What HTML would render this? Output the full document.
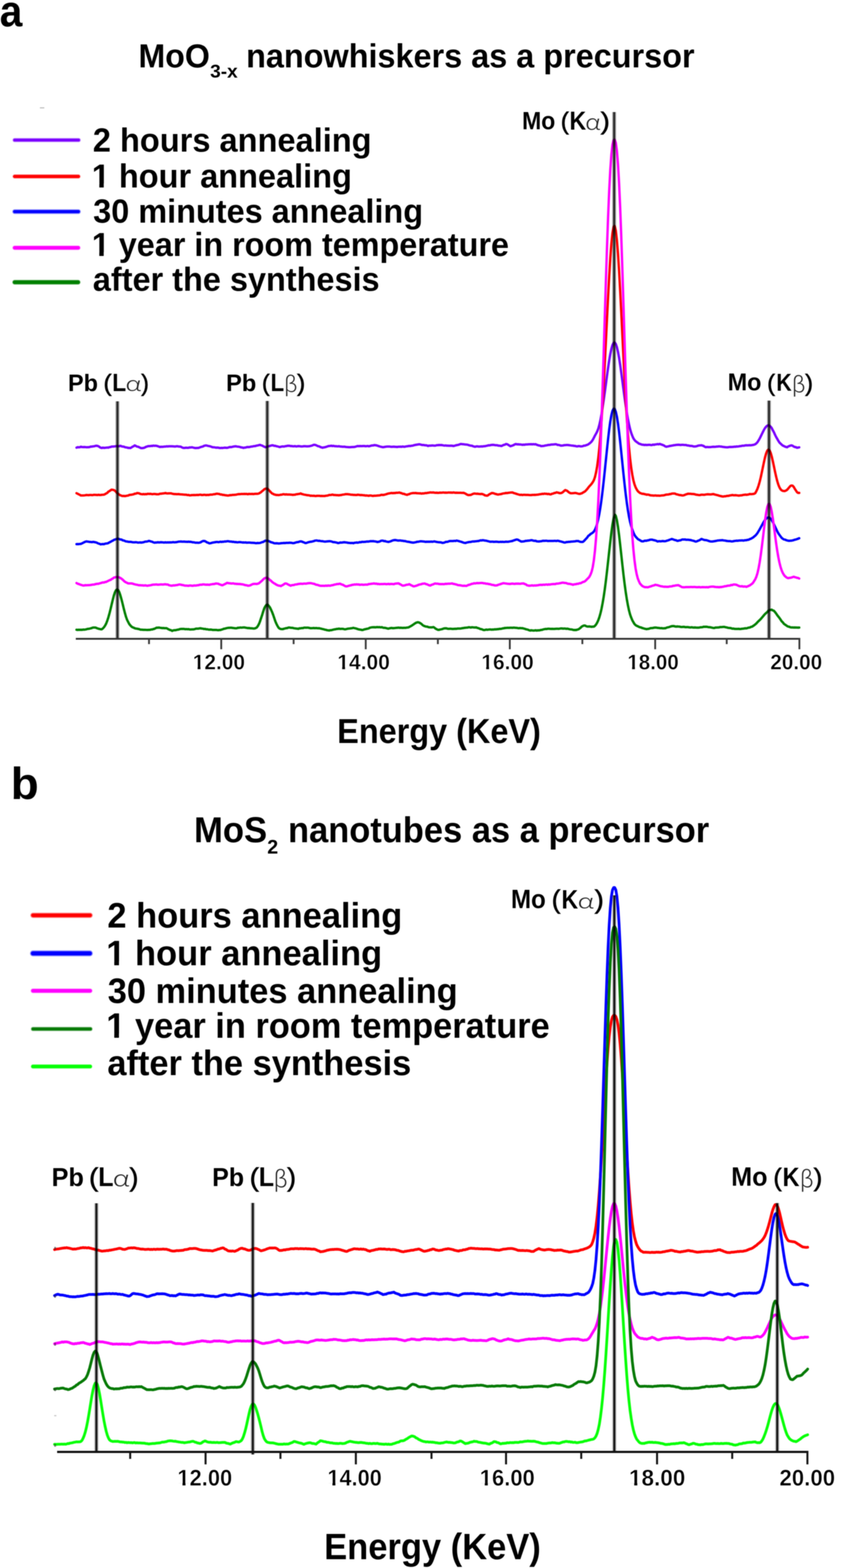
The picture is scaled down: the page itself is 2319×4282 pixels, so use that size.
<!DOCTYPE html><html><head><meta charset="utf-8"><title>EDS spectra</title><style>html,body{margin:0;padding:0;background:#fff}svg{display:block;filter:blur(0.9px)}</style></head><body>
<svg width="2319" height="4282" viewBox="0 0 2319 4282">
<rect width="2319" height="4282" fill="#fff"/>
<line x1="40" y1="382.5" x2="214.7" y2="382.5" stroke="#7a00ff" stroke-width="11.7" stroke-opacity="0.45" stroke-linecap="round"/>
<line x1="40" y1="382.5" x2="214.7" y2="382.5" stroke="#7a00ff" stroke-width="7.5" stroke-linecap="round"/>
<line x1="40" y1="481.9" x2="214.2" y2="481.9" stroke="#ff0000" stroke-width="11.7" stroke-opacity="0.45" stroke-linecap="round"/>
<line x1="40" y1="481.9" x2="214.2" y2="481.9" stroke="#ff0000" stroke-width="8.3" stroke-linecap="round"/>
<line x1="40" y1="577.9" x2="214.2" y2="577.9" stroke="#0000ff" stroke-width="13" stroke-opacity="0.45" stroke-linecap="round"/>
<line x1="40" y1="577.9" x2="214.2" y2="577.9" stroke="#0000ff" stroke-width="8.3" stroke-linecap="round"/>
<line x1="40" y1="676.7" x2="213.8" y2="676.7" stroke="#ff00ff" stroke-width="12.5" stroke-opacity="0.45" stroke-linecap="round"/>
<line x1="40" y1="676.7" x2="213.8" y2="676.7" stroke="#ff00ff" stroke-width="9.2" stroke-linecap="round"/>
<line x1="40" y1="770.7" x2="213.4" y2="770.7" stroke="#008000" stroke-width="13.4" stroke-opacity="0.45" stroke-linecap="round"/>
<line x1="40" y1="770.7" x2="213.4" y2="770.7" stroke="#008000" stroke-width="10" stroke-linecap="round"/>
<line x1="90" y1="2499.6" x2="246.2" y2="2499.6" stroke="#ff0000" stroke-width="14.6" stroke-opacity="0.45" stroke-linecap="round"/>
<line x1="90" y1="2499.6" x2="246.2" y2="2499.6" stroke="#ff0000" stroke-width="9.6" stroke-linecap="round"/>
<line x1="90" y1="2603.5" x2="245.4" y2="2603.5" stroke="#0000ff" stroke-width="16.4" stroke-opacity="0.45" stroke-linecap="round"/>
<line x1="90" y1="2603.5" x2="245.4" y2="2603.5" stroke="#0000ff" stroke-width="11.2" stroke-linecap="round"/>
<line x1="90" y1="2705.7" x2="246.3" y2="2705.7" stroke="#ff00ff" stroke-width="13" stroke-opacity="0.45" stroke-linecap="round"/>
<line x1="90" y1="2705.7" x2="246.3" y2="2705.7" stroke="#ff00ff" stroke-width="9.4" stroke-linecap="round"/>
<line x1="90" y1="2810" x2="247.1" y2="2810" stroke="#067a06" stroke-width="12" stroke-opacity="0.45" stroke-linecap="round"/>
<line x1="90" y1="2810" x2="247.1" y2="2810" stroke="#067a06" stroke-width="7.8" stroke-linecap="round"/>
<line x1="90" y1="2912.4" x2="246.3" y2="2912.4" stroke="#08ff08" stroke-width="12" stroke-opacity="0.45" stroke-linecap="round"/>
<line x1="90" y1="2912.4" x2="246.3" y2="2912.4" stroke="#08ff08" stroke-width="9.4" stroke-linecap="round"/>
<path d="M209.0,1222.5 L212.0,1221.3 L215.0,1221.5 L218.0,1221.2 L221.0,1219.9 L224.0,1220.8 L227.0,1220.9 L230.0,1220.7 L233.0,1220.9 L236.0,1221.4 L239.0,1221.3 L242.0,1221.3 L245.0,1220.7 L248.0,1219.6 L251.0,1219.7 L254.0,1219.0 L257.0,1218.7 L260.0,1217.9 L263.0,1217.2 L266.0,1217.6 L269.0,1218.7 L272.0,1220.7 L275.0,1222.7 L278.0,1223.4 L281.0,1222.4 L284.0,1223.2 L287.0,1222.8 L290.0,1222.5 L293.0,1222.1 L296.0,1222.4 L299.0,1221.1 L302.0,1220.7 L305.0,1219.4 L308.0,1219.6 L311.0,1219.2 L314.0,1218.9 L317.0,1218.5 L320.0,1218.2 L323.0,1218.8 L326.0,1218.3 L329.0,1217.5 L332.0,1218.8 L335.0,1219.6 L338.0,1219.7 L341.0,1221.1 L344.0,1221.7 L347.0,1222.1 L350.0,1223.2 L353.0,1223.1 L356.0,1223.6 L359.0,1222.0 L362.0,1219.8 L365.0,1218.7 L368.0,1216.4 L371.0,1217.8 L374.0,1219.5 L377.0,1219.9 L380.0,1221.2 L383.0,1222.8 L386.0,1223.8 L389.0,1223.7 L392.0,1223.3 L395.0,1222.4 L398.0,1220.6 L401.0,1219.6 L404.0,1218.6 L407.0,1218.3 L410.0,1218.3 L413.0,1217.6 L416.0,1217.9 L419.0,1216.9 L422.0,1217.5 L425.0,1217.1 L428.0,1217.7 L431.0,1218.5 L434.0,1219.6 L437.0,1220.7 L440.0,1220.0 L443.0,1220.2 L446.0,1219.9 L449.0,1219.6 L452.0,1219.6 L455.0,1218.8 L458.0,1219.2 L461.0,1218.7 L464.0,1218.7 L467.0,1218.8 L470.0,1218.8 L473.0,1219.0 L476.0,1219.2 L479.0,1219.4 L482.0,1218.7 L485.0,1218.8 L488.0,1219.4 L491.0,1219.5 L494.0,1220.0 L497.0,1221.8 L500.0,1223.0 L503.0,1223.2 L506.0,1222.9 L509.0,1222.6 L512.0,1223.1 L515.0,1222.8 L518.0,1221.8 L521.0,1222.1 L524.0,1221.4 L527.0,1222.2 L530.0,1222.9 L533.0,1223.5 L536.0,1223.6 L539.0,1223.3 L542.0,1223.2 L545.0,1222.1 L548.0,1220.9 L551.0,1220.1 L554.0,1219.3 L557.0,1217.6 L560.0,1216.8 L563.0,1216.4 L566.0,1217.2 L569.0,1217.9 L572.0,1218.4 L575.0,1219.2 L578.0,1220.3 L581.0,1221.3 L584.0,1221.4 L587.0,1221.9 L590.0,1222.5 L593.0,1222.3 L596.0,1222.4 L599.0,1223.3 L602.0,1223.6 L605.0,1223.1 L608.0,1223.4 L611.0,1222.9 L614.0,1222.5 L617.0,1222.7 L620.0,1223.0 L623.0,1222.4 L626.0,1221.3 L629.0,1220.7 L632.0,1221.0 L635.0,1220.1 L638.0,1219.5 L641.0,1219.0 L644.0,1218.8 L647.0,1219.4 L650.0,1219.7 L653.0,1220.1 L656.0,1220.8 L659.0,1221.8 L662.0,1222.2 L665.0,1223.2 L668.0,1222.3 L671.0,1222.3 L674.0,1221.0 L677.0,1220.7 L680.0,1221.0 L683.0,1220.3 L686.0,1219.6 L689.0,1219.5 L692.0,1218.6 L695.0,1218.2 L698.0,1217.9 L701.0,1216.9 L704.0,1216.5 L707.0,1215.6 L710.0,1214.9 L713.0,1216.0 L716.0,1216.9 L719.0,1218.5 L722.0,1220.1 L725.0,1221.3 L728.0,1220.6 L731.0,1219.4 L734.0,1218.5 L737.0,1217.9 L740.0,1216.8 L743.0,1216.1 L746.0,1216.2 L749.0,1217.4 L752.0,1217.4 L755.0,1218.6 L758.0,1219.0 L761.0,1220.0 L764.0,1220.9 L767.0,1220.1 L770.0,1219.3 L773.0,1219.3 L776.0,1219.4 L779.0,1218.6 L782.0,1218.3 L785.0,1217.4 L788.0,1217.3 L791.0,1217.4 L794.0,1218.3 L797.0,1218.1 L800.0,1218.8 L803.0,1218.7 L806.0,1218.3 L809.0,1219.2 L812.0,1218.8 L815.0,1218.3 L818.0,1218.4 L821.0,1219.1 L824.0,1219.2 L827.0,1219.0 L830.0,1218.5 L833.0,1218.6 L836.0,1218.8 L839.0,1219.0 L842.0,1218.7 L845.0,1218.5 L848.0,1217.9 L851.0,1217.2 L854.0,1216.0 L857.0,1214.8 L860.0,1214.8 L863.0,1215.7 L866.0,1217.2 L869.0,1218.5 L872.0,1218.9 L875.0,1220.8 L878.0,1221.6 L881.0,1222.7 L884.0,1221.8 L887.0,1221.5 L890.0,1220.6 L893.0,1219.7 L896.0,1218.5 L899.0,1217.9 L902.0,1217.7 L905.0,1217.2 L908.0,1218.2 L911.0,1217.5 L914.0,1218.5 L917.0,1218.4 L920.0,1218.7 L923.0,1218.9 L926.0,1218.6 L929.0,1219.4 L932.0,1219.4 L935.0,1220.1 L938.0,1219.9 L941.0,1219.8 L944.0,1220.5 L947.0,1220.8 L950.0,1221.0 L953.0,1221.2 L956.0,1221.3 L959.0,1221.0 L962.0,1220.7 L965.0,1220.8 L968.0,1220.6 L971.0,1219.8 L974.0,1218.9 L977.0,1218.1 L980.0,1218.4 L983.0,1218.1 L986.0,1218.2 L989.0,1218.3 L992.0,1218.0 L995.0,1218.0 L998.0,1218.5 L1001.0,1218.4 L1004.0,1217.9 L1007.0,1218.7 L1010.0,1218.2 L1013.0,1217.3 L1016.0,1216.4 L1019.0,1216.6 L1022.0,1215.5 L1025.0,1215.7 L1028.0,1216.2 L1031.0,1217.2 L1034.0,1218.1 L1037.0,1219.1 L1040.0,1220.0 L1043.0,1220.6 L1046.0,1221.2 L1049.0,1220.8 L1052.0,1220.2 L1055.0,1219.8 L1058.0,1219.4 L1061.0,1219.6 L1064.0,1219.4 L1067.0,1220.1 L1070.0,1220.2 L1073.0,1219.9 L1076.0,1219.7 L1079.0,1220.3 L1082.0,1220.2 L1085.0,1220.7 L1088.0,1220.0 L1091.0,1220.0 L1094.0,1219.7 L1097.0,1220.2 L1100.0,1219.3 L1103.0,1220.0 L1106.0,1219.9 L1109.0,1219.1 L1112.0,1218.7 L1115.0,1218.3 L1118.0,1217.7 L1121.0,1218.1 L1124.0,1217.2 L1127.0,1217.1 L1130.0,1216.0 L1133.0,1215.3 L1136.0,1214.7 L1139.0,1214.2 L1142.0,1213.7 L1145.0,1213.3 L1148.0,1213.7 L1151.0,1214.8 L1154.0,1215.3 L1157.0,1215.2 L1160.0,1215.9 L1163.0,1216.0 L1166.0,1216.5 L1169.0,1217.9 L1172.0,1216.9 L1175.0,1217.0 L1178.0,1216.7 L1181.0,1216.4 L1184.0,1216.8 L1187.0,1216.9 L1190.0,1216.8 L1193.0,1215.7 L1196.0,1215.7 L1199.0,1215.3 L1202.0,1215.6 L1205.0,1215.3 L1208.0,1215.7 L1211.0,1216.4 L1214.0,1216.9 L1217.0,1216.4 L1220.0,1217.0 L1223.0,1217.1 L1226.0,1217.3 L1229.0,1217.3 L1232.0,1217.1 L1235.0,1217.2 L1238.0,1218.0 L1241.0,1217.5 L1244.0,1216.5 L1247.0,1215.7 L1250.0,1215.1 L1253.0,1214.6 L1256.0,1213.3 L1259.0,1212.4 L1262.0,1212.9 L1265.0,1213.1 L1268.0,1213.5 L1271.0,1213.9 L1274.0,1214.1 L1277.0,1214.5 L1280.0,1215.5 L1283.0,1216.3 L1286.0,1217.1 L1289.0,1217.3 L1292.0,1218.6 L1295.0,1219.5 L1298.0,1220.0 L1301.0,1219.1 L1304.0,1219.1 L1307.0,1219.4 L1310.0,1219.5 L1313.0,1219.3 L1316.0,1219.1 L1319.0,1219.2 L1322.0,1218.4 L1325.0,1218.5 L1328.0,1217.6 L1331.0,1217.1 L1334.0,1216.1 L1337.0,1216.3 L1340.0,1215.5 L1343.0,1215.0 L1346.0,1214.7 L1349.0,1214.9 L1352.0,1215.7 L1355.0,1215.7 L1358.0,1215.9 L1361.0,1216.9 L1364.0,1217.1 L1367.0,1217.5 L1370.0,1218.0 L1373.0,1216.3 L1376.0,1215.0 L1379.0,1214.3 L1382.0,1212.6 L1385.0,1213.0 L1388.0,1214.7 L1391.0,1216.6 L1394.0,1218.5 L1397.0,1217.7 L1400.0,1216.6 L1403.0,1215.4 L1406.0,1213.6 L1409.0,1212.6 L1412.0,1213.4 L1415.0,1213.2 L1418.0,1213.7 L1421.0,1213.7 L1424.0,1214.1 L1427.0,1214.8 L1430.0,1214.2 L1433.0,1214.5 L1436.0,1213.7 L1439.0,1213.7 L1442.0,1213.5 L1445.0,1213.3 L1448.0,1213.2 L1451.0,1213.0 L1454.0,1213.5 L1457.0,1212.9 L1460.0,1213.6 L1463.0,1213.0 L1466.0,1214.7 L1469.0,1215.5 L1472.0,1216.6 L1475.0,1216.8 L1478.0,1218.4 L1481.0,1218.0 L1484.0,1217.9 L1487.0,1217.4 L1490.0,1216.4 L1493.0,1216.2 L1496.0,1215.4 L1499.0,1215.1 L1502.0,1215.0 L1505.0,1214.1 L1508.0,1213.9 L1511.0,1213.7 L1514.0,1213.5 L1517.0,1213.1 L1520.0,1213.5 L1523.0,1215.1 L1526.0,1215.0 L1529.0,1215.9 L1532.0,1216.9 L1535.0,1216.7 L1538.0,1216.5 L1541.0,1215.7 L1544.0,1215.6 L1547.0,1215.2 L1550.0,1215.3 L1553.0,1215.6 L1556.0,1215.9 L1559.0,1216.4 L1562.0,1216.8 L1565.0,1217.0 L1568.0,1217.7 L1571.0,1217.8 L1574.0,1218.7 L1577.0,1219.0 L1580.0,1218.2 L1583.0,1218.3 L1586.0,1219.0 L1589.0,1218.9 L1592.0,1218.4 L1595.0,1217.0 L1598.0,1216.9 L1601.0,1215.7 L1604.0,1214.8 L1607.0,1213.3 L1610.0,1211.1 L1613.0,1208.7 L1616.0,1205.7 L1619.0,1201.4 L1622.0,1195.8 L1625.0,1189.7 L1628.0,1184.5 L1631.0,1178.6 L1634.0,1171.3 L1637.0,1160.7 L1640.0,1147.3 L1643.0,1131.0 L1646.0,1112.6 L1649.0,1092.3 L1652.0,1070.8 L1655.0,1048.5 L1658.0,1025.9 L1661.0,1004.2 L1664.0,984.3 L1667.0,966.7 L1670.0,952.7 L1673.0,942.2 L1676.0,936.5 L1678.0,935.3 L1679.0,935.5 L1682.0,939.3 L1685.0,947.9 L1688.0,960.8 L1691.0,977.4 L1694.0,996.7 L1697.0,1018.3 L1700.0,1040.9 L1703.0,1063.7 L1706.0,1086.0 L1709.0,1106.8 L1712.0,1126.1 L1715.0,1143.3 L1718.0,1158.5 L1721.0,1171.5 L1724.0,1181.9 L1727.0,1190.0 L1730.0,1196.9 L1733.0,1201.4 L1736.0,1204.7 L1739.0,1207.0 L1742.0,1209.0 L1745.0,1211.3 L1748.0,1212.3 L1751.0,1213.4 L1754.0,1214.4 L1757.0,1214.4 L1760.0,1215.3 L1763.0,1214.8 L1766.0,1215.3 L1769.0,1215.0 L1772.0,1214.7 L1775.0,1214.8 L1778.0,1215.4 L1781.0,1215.2 L1784.0,1214.2 L1787.0,1214.7 L1790.0,1213.7 L1793.0,1213.4 L1796.0,1212.8 L1799.0,1213.4 L1802.0,1212.3 L1805.0,1213.4 L1808.0,1214.4 L1811.0,1215.5 L1814.0,1216.8 L1817.0,1219.0 L1820.0,1220.0 L1823.0,1219.3 L1826.0,1218.9 L1829.0,1217.7 L1832.0,1217.7 L1835.0,1216.8 L1838.0,1216.5 L1841.0,1215.7 L1844.0,1215.5 L1847.0,1214.9 L1850.0,1214.7 L1853.0,1214.6 L1856.0,1214.7 L1859.0,1215.3 L1862.0,1214.7 L1865.0,1214.8 L1868.0,1215.1 L1871.0,1215.3 L1874.0,1215.3 L1877.0,1216.4 L1880.0,1216.5 L1883.0,1217.3 L1886.0,1217.8 L1889.0,1217.7 L1892.0,1218.4 L1895.0,1219.3 L1898.0,1219.3 L1901.0,1219.0 L1904.0,1218.1 L1907.0,1217.0 L1910.0,1216.5 L1913.0,1216.3 L1916.0,1215.9 L1919.0,1217.0 L1922.0,1217.8 L1925.0,1220.1 L1928.0,1221.3 L1931.0,1220.6 L1934.0,1221.0 L1937.0,1220.9 L1940.0,1221.1 L1943.0,1220.6 L1946.0,1220.2 L1949.0,1220.0 L1952.0,1220.2 L1955.0,1220.0 L1958.0,1219.5 L1961.0,1219.5 L1964.0,1218.9 L1967.0,1219.4 L1970.0,1219.5 L1973.0,1220.2 L1976.0,1220.6 L1979.0,1220.9 L1982.0,1221.2 L1985.0,1221.4 L1988.0,1221.5 L1991.0,1220.9 L1994.0,1220.5 L1997.0,1220.8 L2000.0,1220.5 L2003.0,1220.4 L2006.0,1219.8 L2009.0,1220.0 L2012.0,1219.2 L2015.0,1219.4 L2018.0,1219.0 L2021.0,1218.3 L2024.0,1218.3 L2027.0,1217.2 L2030.0,1217.2 L2033.0,1217.0 L2036.0,1216.2 L2039.0,1215.9 L2042.0,1216.2 L2045.0,1216.0 L2048.0,1215.8 L2051.0,1216.1 L2054.0,1215.4 L2057.0,1215.1 L2060.0,1214.3 L2063.0,1213.1 L2066.0,1210.7 L2069.0,1207.6 L2072.0,1202.6 L2075.0,1197.6 L2078.0,1191.5 L2081.0,1185.4 L2084.0,1179.3 L2087.0,1173.4 L2090.0,1168.4 L2093.0,1164.8 L2096.0,1162.4 L2099.0,1161.2 L2102.0,1162.5 L2105.0,1165.3 L2108.0,1169.1 L2111.0,1175.2 L2114.0,1180.6 L2117.0,1187.4 L2120.0,1193.4 L2123.0,1198.5 L2126.0,1203.8 L2129.0,1208.5 L2132.0,1211.3 L2135.0,1214.2 L2138.0,1216.7 L2141.0,1218.0 L2144.0,1219.7 L2147.0,1220.7 L2150.0,1221.4 L2153.0,1219.2 L2156.0,1218.0 L2159.0,1216.9 L2162.0,1216.2 L2165.0,1217.3 L2168.0,1219.4 L2171.0,1220.7 L2174.0,1221.3 L2177.0,1222.7 L2180.0,1222.3 L2183.0,1221.6" fill="none" stroke="#7a00ff" stroke-width="6.5" stroke-linejoin="round" stroke-linecap="round"/>
<path d="M209.0,1346.8 L212.0,1348.3 L215.0,1349.8 L218.0,1351.3 L221.0,1353.1 L224.0,1353.0 L227.0,1352.9 L230.0,1352.8 L233.0,1352.4 L236.0,1351.8 L239.0,1351.9 L242.0,1352.3 L245.0,1351.8 L248.0,1351.8 L251.0,1351.9 L254.0,1351.9 L257.0,1351.2 L260.0,1351.4 L263.0,1351.6 L266.0,1351.9 L269.0,1351.2 L272.0,1351.8 L275.0,1351.7 L278.0,1351.3 L281.0,1351.1 L284.0,1350.8 L287.0,1349.3 L290.0,1347.6 L293.0,1346.0 L296.0,1342.7 L299.0,1341.1 L302.0,1338.9 L305.0,1337.2 L308.0,1337.6 L311.0,1338.3 L314.0,1340.1 L317.0,1343.2 L320.0,1346.7 L323.0,1348.5 L326.0,1351.3 L329.0,1352.6 L332.0,1353.8 L335.0,1354.6 L338.0,1354.2 L341.0,1354.9 L344.0,1354.3 L347.0,1353.6 L350.0,1353.2 L353.0,1351.8 L356.0,1351.2 L359.0,1351.0 L362.0,1350.4 L365.0,1349.8 L368.0,1348.2 L371.0,1348.2 L374.0,1346.6 L377.0,1346.8 L380.0,1347.2 L383.0,1348.8 L386.0,1349.4 L389.0,1349.8 L392.0,1349.3 L395.0,1349.9 L398.0,1349.2 L401.0,1349.5 L404.0,1348.4 L407.0,1348.9 L410.0,1348.6 L413.0,1348.9 L416.0,1349.6 L419.0,1349.1 L422.0,1348.9 L425.0,1349.3 L428.0,1349.7 L431.0,1349.8 L434.0,1349.5 L437.0,1348.3 L440.0,1348.3 L443.0,1347.8 L446.0,1347.4 L449.0,1347.1 L452.0,1346.3 L455.0,1347.3 L458.0,1347.4 L461.0,1347.3 L464.0,1347.2 L467.0,1347.2 L470.0,1348.1 L473.0,1348.8 L476.0,1349.2 L479.0,1349.3 L482.0,1349.6 L485.0,1349.5 L488.0,1349.3 L491.0,1349.9 L494.0,1350.1 L497.0,1350.2 L500.0,1350.5 L503.0,1350.7 L506.0,1351.1 L509.0,1351.1 L512.0,1352.0 L515.0,1351.6 L518.0,1352.7 L521.0,1352.5 L524.0,1352.0 L527.0,1352.1 L530.0,1351.8 L533.0,1352.0 L536.0,1351.7 L539.0,1351.6 L542.0,1351.7 L545.0,1351.1 L548.0,1351.0 L551.0,1351.8 L554.0,1351.8 L557.0,1351.3 L560.0,1351.3 L563.0,1352.0 L566.0,1351.4 L569.0,1351.7 L572.0,1351.2 L575.0,1350.7 L578.0,1350.7 L581.0,1350.4 L584.0,1349.7 L587.0,1349.5 L590.0,1348.7 L593.0,1348.1 L596.0,1348.8 L599.0,1349.0 L602.0,1350.4 L605.0,1350.2 L608.0,1351.4 L611.0,1351.5 L614.0,1352.2 L617.0,1352.5 L620.0,1353.0 L623.0,1353.2 L626.0,1352.8 L629.0,1352.0 L632.0,1352.2 L635.0,1351.5 L638.0,1351.5 L641.0,1351.3 L644.0,1351.1 L647.0,1350.3 L650.0,1349.8 L653.0,1349.3 L656.0,1349.4 L659.0,1349.0 L662.0,1349.1 L665.0,1349.0 L668.0,1348.8 L671.0,1349.1 L674.0,1348.8 L677.0,1349.7 L680.0,1348.7 L683.0,1349.0 L686.0,1349.0 L689.0,1348.8 L692.0,1349.2 L695.0,1348.8 L698.0,1348.6 L701.0,1348.5 L704.0,1348.5 L707.0,1347.6 L710.0,1345.9 L713.0,1344.0 L716.0,1341.2 L719.0,1339.1 L722.0,1336.0 L725.0,1334.7 L728.0,1334.2 L731.0,1335.0 L734.0,1338.2 L737.0,1341.2 L740.0,1344.5 L743.0,1347.4 L746.0,1348.7 L749.0,1350.4 L752.0,1351.0 L755.0,1351.8 L758.0,1351.8 L761.0,1352.0 L764.0,1351.6 L767.0,1350.9 L770.0,1350.8 L773.0,1349.7 L776.0,1349.8 L779.0,1350.5 L782.0,1350.0 L785.0,1350.6 L788.0,1350.5 L791.0,1350.6 L794.0,1350.7 L797.0,1350.9 L800.0,1351.6 L803.0,1350.9 L806.0,1351.1 L809.0,1349.8 L812.0,1349.7 L815.0,1348.9 L818.0,1348.7 L821.0,1347.5 L824.0,1349.0 L827.0,1349.7 L830.0,1350.6 L833.0,1351.1 L836.0,1351.6 L839.0,1352.3 L842.0,1352.4 L845.0,1352.9 L848.0,1353.9 L851.0,1353.6 L854.0,1354.1 L857.0,1353.7 L860.0,1354.4 L863.0,1354.5 L866.0,1354.0 L869.0,1354.0 L872.0,1353.9 L875.0,1354.5 L878.0,1354.2 L881.0,1354.4 L884.0,1354.4 L887.0,1354.5 L890.0,1353.8 L893.0,1353.5 L896.0,1353.0 L899.0,1351.8 L902.0,1351.7 L905.0,1351.5 L908.0,1350.7 L911.0,1351.7 L914.0,1351.8 L917.0,1352.0 L920.0,1352.3 L923.0,1352.2 L926.0,1352.7 L929.0,1352.0 L932.0,1351.9 L935.0,1351.0 L938.0,1350.6 L941.0,1350.2 L944.0,1349.5 L947.0,1349.6 L950.0,1349.5 L953.0,1350.1 L956.0,1350.3 L959.0,1351.1 L962.0,1351.1 L965.0,1351.4 L968.0,1351.4 L971.0,1351.7 L974.0,1351.8 L977.0,1351.0 L980.0,1351.2 L983.0,1351.9 L986.0,1351.7 L989.0,1351.9 L992.0,1352.4 L995.0,1352.5 L998.0,1353.3 L1001.0,1353.0 L1004.0,1353.4 L1007.0,1354.0 L1010.0,1353.2 L1013.0,1353.2 L1016.0,1353.9 L1019.0,1354.2 L1022.0,1353.7 L1025.0,1353.8 L1028.0,1353.6 L1031.0,1353.3 L1034.0,1353.0 L1037.0,1352.8 L1040.0,1351.8 L1043.0,1351.3 L1046.0,1351.8 L1049.0,1351.3 L1052.0,1350.5 L1055.0,1349.6 L1058.0,1348.6 L1061.0,1347.7 L1064.0,1347.2 L1067.0,1346.6 L1070.0,1346.2 L1073.0,1346.9 L1076.0,1346.2 L1079.0,1346.5 L1082.0,1345.7 L1085.0,1345.7 L1088.0,1345.5 L1091.0,1345.0 L1094.0,1346.2 L1097.0,1346.8 L1100.0,1348.4 L1103.0,1348.4 L1106.0,1349.8 L1109.0,1350.6 L1112.0,1351.4 L1115.0,1350.0 L1118.0,1349.3 L1121.0,1347.8 L1124.0,1347.1 L1127.0,1346.6 L1130.0,1346.4 L1133.0,1346.4 L1136.0,1346.3 L1139.0,1347.0 L1142.0,1346.9 L1145.0,1347.4 L1148.0,1347.1 L1151.0,1348.0 L1154.0,1347.3 L1157.0,1347.6 L1160.0,1346.8 L1163.0,1346.5 L1166.0,1346.4 L1169.0,1345.7 L1172.0,1345.5 L1175.0,1344.6 L1178.0,1345.0 L1181.0,1344.9 L1184.0,1344.8 L1187.0,1345.5 L1190.0,1345.7 L1193.0,1345.5 L1196.0,1346.0 L1199.0,1345.8 L1202.0,1345.2 L1205.0,1345.6 L1208.0,1345.3 L1211.0,1344.9 L1214.0,1345.4 L1217.0,1345.3 L1220.0,1345.5 L1223.0,1345.3 L1226.0,1344.9 L1229.0,1345.3 L1232.0,1345.0 L1235.0,1345.6 L1238.0,1344.8 L1241.0,1345.2 L1244.0,1345.7 L1247.0,1345.5 L1250.0,1345.8 L1253.0,1345.8 L1256.0,1345.7 L1259.0,1345.7 L1262.0,1346.1 L1265.0,1345.7 L1268.0,1346.5 L1271.0,1347.9 L1274.0,1349.7 L1277.0,1351.4 L1280.0,1352.1 L1283.0,1351.8 L1286.0,1351.6 L1289.0,1350.0 L1292.0,1348.8 L1295.0,1347.7 L1298.0,1348.0 L1301.0,1348.4 L1304.0,1348.2 L1307.0,1348.7 L1310.0,1349.1 L1313.0,1349.3 L1316.0,1348.8 L1319.0,1349.7 L1322.0,1351.1 L1325.0,1352.9 L1328.0,1353.4 L1331.0,1353.6 L1334.0,1351.8 L1337.0,1349.5 L1340.0,1348.2 L1343.0,1346.4 L1346.0,1346.5 L1349.0,1347.3 L1352.0,1348.6 L1355.0,1349.2 L1358.0,1350.2 L1361.0,1350.5 L1364.0,1349.9 L1367.0,1349.5 L1370.0,1349.0 L1373.0,1347.9 L1376.0,1347.4 L1379.0,1347.0 L1382.0,1346.2 L1385.0,1346.5 L1388.0,1345.9 L1391.0,1345.6 L1394.0,1345.1 L1397.0,1345.0 L1400.0,1344.8 L1403.0,1346.4 L1406.0,1347.1 L1409.0,1348.1 L1412.0,1349.1 L1415.0,1350.0 L1418.0,1350.9 L1421.0,1351.6 L1424.0,1351.0 L1427.0,1351.9 L1430.0,1351.2 L1433.0,1351.2 L1436.0,1351.4 L1439.0,1351.4 L1442.0,1351.6 L1445.0,1351.8 L1448.0,1351.9 L1451.0,1352.0 L1454.0,1351.5 L1457.0,1351.6 L1460.0,1351.2 L1463.0,1351.4 L1466.0,1351.0 L1469.0,1350.8 L1472.0,1350.3 L1475.0,1349.6 L1478.0,1349.5 L1481.0,1348.5 L1484.0,1349.0 L1487.0,1348.0 L1490.0,1348.6 L1493.0,1348.5 L1496.0,1349.3 L1499.0,1348.8 L1502.0,1349.9 L1505.0,1349.9 L1508.0,1348.3 L1511.0,1347.9 L1514.0,1346.3 L1517.0,1346.1 L1520.0,1344.5 L1523.0,1345.2 L1526.0,1345.8 L1529.0,1346.8 L1532.0,1346.6 L1535.0,1345.6 L1538.0,1343.5 L1541.0,1340.6 L1544.0,1338.3 L1547.0,1339.5 L1550.0,1341.0 L1553.0,1343.9 L1556.0,1345.7 L1559.0,1347.1 L1562.0,1346.9 L1565.0,1346.8 L1568.0,1346.5 L1571.0,1346.1 L1574.0,1346.6 L1577.0,1347.5 L1580.0,1348.4 L1583.0,1348.8 L1586.0,1348.0 L1589.0,1347.2 L1592.0,1345.4 L1595.0,1343.6 L1598.0,1341.9 L1601.0,1338.8 L1604.0,1335.5 L1607.0,1331.5 L1610.0,1327.7 L1613.0,1324.7 L1616.0,1321.2 L1619.0,1316.8 L1622.0,1311.6 L1625.0,1303.2 L1628.0,1290.6 L1631.0,1274.0 L1634.0,1252.0 L1637.0,1224.0 L1640.0,1189.3 L1643.0,1148.9 L1646.0,1101.8 L1649.0,1049.3 L1652.0,991.8 L1655.0,931.7 L1658.0,870.2 L1661.0,810.4 L1664.0,754.2 L1667.0,704.7 L1670.0,664.5 L1673.0,635.8 L1676.0,619.8 L1678.0,616.9 L1679.0,617.6 L1682.0,629.7 L1685.0,655.3 L1688.0,692.8 L1691.0,739.8 L1694.0,794.8 L1697.0,854.4 L1700.0,916.1 L1703.0,977.3 L1706.0,1036.2 L1709.0,1091.0 L1712.0,1140.3 L1715.0,1183.5 L1718.0,1220.8 L1721.0,1251.5 L1724.0,1276.6 L1727.0,1295.8 L1730.0,1311.3 L1733.0,1322.3 L1736.0,1330.5 L1739.0,1336.4 L1742.0,1341.0 L1745.0,1343.8 L1748.0,1346.2 L1751.0,1347.3 L1754.0,1348.4 L1757.0,1348.4 L1760.0,1349.3 L1763.0,1349.9 L1766.0,1350.9 L1769.0,1350.6 L1772.0,1351.0 L1775.0,1352.2 L1778.0,1352.8 L1781.0,1353.0 L1784.0,1353.2 L1787.0,1353.4 L1790.0,1352.9 L1793.0,1353.6 L1796.0,1353.4 L1799.0,1353.6 L1802.0,1353.8 L1805.0,1353.4 L1808.0,1352.9 L1811.0,1352.7 L1814.0,1352.4 L1817.0,1351.5 L1820.0,1350.7 L1823.0,1350.5 L1826.0,1350.3 L1829.0,1349.3 L1832.0,1349.3 L1835.0,1347.9 L1838.0,1347.8 L1841.0,1347.8 L1844.0,1348.1 L1847.0,1349.6 L1850.0,1350.2 L1853.0,1351.1 L1856.0,1351.9 L1859.0,1351.9 L1862.0,1352.8 L1865.0,1353.1 L1868.0,1352.3 L1871.0,1351.3 L1874.0,1350.0 L1877.0,1349.2 L1880.0,1348.2 L1883.0,1348.6 L1886.0,1348.4 L1889.0,1349.0 L1892.0,1349.0 L1895.0,1349.3 L1898.0,1349.8 L1901.0,1350.8 L1904.0,1351.2 L1907.0,1351.6 L1910.0,1352.1 L1913.0,1351.7 L1916.0,1350.9 L1919.0,1350.9 L1922.0,1351.3 L1925.0,1351.0 L1928.0,1350.4 L1931.0,1350.0 L1934.0,1349.7 L1937.0,1350.1 L1940.0,1350.3 L1943.0,1350.0 L1946.0,1349.5 L1949.0,1349.3 L1952.0,1350.3 L1955.0,1351.2 L1958.0,1351.9 L1961.0,1352.5 L1964.0,1353.6 L1967.0,1354.3 L1970.0,1355.0 L1973.0,1355.8 L1976.0,1355.9 L1979.0,1355.3 L1982.0,1355.3 L1985.0,1354.2 L1988.0,1354.3 L1991.0,1353.8 L1994.0,1352.9 L1997.0,1352.6 L2000.0,1351.8 L2003.0,1352.4 L2006.0,1352.6 L2009.0,1352.2 L2012.0,1352.6 L2015.0,1353.1 L2018.0,1353.4 L2021.0,1353.1 L2024.0,1352.8 L2027.0,1352.5 L2030.0,1351.5 L2033.0,1351.2 L2036.0,1350.7 L2039.0,1351.2 L2042.0,1350.7 L2045.0,1350.3 L2048.0,1349.1 L2051.0,1349.4 L2054.0,1349.3 L2057.0,1349.1 L2060.0,1348.3 L2063.0,1346.6 L2066.0,1341.2 L2069.0,1334.6 L2072.0,1326.0 L2075.0,1315.7 L2078.0,1303.3 L2081.0,1289.3 L2084.0,1274.8 L2087.0,1260.6 L2090.0,1247.4 L2093.0,1237.2 L2096.0,1230.3 L2099.0,1227.9 L2102.0,1229.9 L2105.0,1236.5 L2108.0,1246.8 L2111.0,1259.7 L2114.0,1273.9 L2117.0,1288.3 L2120.0,1301.8 L2123.0,1313.8 L2126.0,1323.5 L2129.0,1330.9 L2132.0,1336.0 L2135.0,1338.8 L2138.0,1340.5 L2141.0,1340.9 L2144.0,1340.9 L2147.0,1339.5 L2150.0,1337.5 L2153.0,1334.1 L2156.0,1330.5 L2159.0,1327.0 L2162.0,1325.9 L2165.0,1326.4 L2168.0,1329.7 L2171.0,1335.0 L2174.0,1339.5 L2177.0,1344.0 L2180.0,1346.0 L2183.0,1346.1" fill="none" stroke="#ff0000" stroke-width="6.5" stroke-linejoin="round" stroke-linecap="round"/>
<path d="M209.0,1486.0 L212.0,1485.7 L215.0,1485.9 L218.0,1485.4 L221.0,1485.2 L224.0,1483.8 L227.0,1482.3 L230.0,1480.7 L233.0,1479.4 L236.0,1478.5 L239.0,1479.0 L242.0,1479.3 L245.0,1480.1 L248.0,1480.1 L251.0,1480.5 L254.0,1479.8 L257.0,1480.2 L260.0,1480.8 L263.0,1481.5 L266.0,1482.9 L269.0,1484.4 L272.0,1485.1 L275.0,1486.6 L278.0,1485.9 L281.0,1485.7 L284.0,1486.0 L287.0,1484.9 L290.0,1484.2 L293.0,1484.0 L296.0,1482.9 L299.0,1481.0 L302.0,1479.7 L305.0,1477.8 L308.0,1476.6 L311.0,1474.5 L314.0,1473.4 L317.0,1472.5 L320.0,1471.3 L323.0,1471.3 L326.0,1472.4 L329.0,1473.3 L332.0,1473.6 L335.0,1475.5 L338.0,1476.0 L341.0,1477.2 L344.0,1478.4 L347.0,1478.7 L350.0,1479.5 L353.0,1479.8 L356.0,1479.8 L359.0,1480.1 L362.0,1480.7 L365.0,1480.9 L368.0,1481.0 L371.0,1480.6 L374.0,1481.1 L377.0,1481.7 L380.0,1481.5 L383.0,1481.2 L386.0,1481.7 L389.0,1481.2 L392.0,1480.8 L395.0,1479.7 L398.0,1478.9 L401.0,1478.9 L404.0,1478.1 L407.0,1477.0 L410.0,1478.0 L413.0,1478.8 L416.0,1479.6 L419.0,1481.1 L422.0,1482.0 L425.0,1481.5 L428.0,1481.6 L431.0,1480.8 L434.0,1481.4 L437.0,1481.1 L440.0,1480.8 L443.0,1480.9 L446.0,1481.4 L449.0,1481.6 L452.0,1481.0 L455.0,1481.6 L458.0,1481.1 L461.0,1481.4 L464.0,1481.0 L467.0,1481.2 L470.0,1481.1 L473.0,1480.4 L476.0,1481.1 L479.0,1480.7 L482.0,1480.6 L485.0,1479.9 L488.0,1479.2 L491.0,1479.1 L494.0,1478.7 L497.0,1479.2 L500.0,1479.2 L503.0,1479.0 L506.0,1479.5 L509.0,1479.5 L512.0,1479.8 L515.0,1479.3 L518.0,1479.7 L521.0,1479.6 L524.0,1480.3 L527.0,1481.0 L530.0,1481.0 L533.0,1481.9 L536.0,1482.0 L539.0,1482.0 L542.0,1482.4 L545.0,1481.9 L548.0,1480.9 L551.0,1479.0 L554.0,1477.6 L557.0,1477.3 L560.0,1477.8 L563.0,1479.7 L566.0,1481.4 L569.0,1482.4 L572.0,1483.9 L575.0,1483.4 L578.0,1482.6 L581.0,1481.7 L584.0,1481.3 L587.0,1480.8 L590.0,1480.3 L593.0,1479.9 L596.0,1480.5 L599.0,1480.2 L602.0,1479.3 L605.0,1480.0 L608.0,1479.3 L611.0,1479.5 L614.0,1478.6 L617.0,1478.9 L620.0,1478.0 L623.0,1477.9 L626.0,1478.5 L629.0,1479.0 L632.0,1479.0 L635.0,1479.8 L638.0,1479.6 L641.0,1480.5 L644.0,1480.3 L647.0,1480.9 L650.0,1480.9 L653.0,1480.4 L656.0,1480.4 L659.0,1480.9 L662.0,1481.4 L665.0,1481.2 L668.0,1481.6 L671.0,1481.2 L674.0,1482.1 L677.0,1481.7 L680.0,1481.8 L683.0,1481.8 L686.0,1482.2 L689.0,1482.3 L692.0,1482.5 L695.0,1482.6 L698.0,1483.2 L701.0,1483.3 L704.0,1482.7 L707.0,1483.1 L710.0,1482.6 L713.0,1481.8 L716.0,1480.6 L719.0,1480.0 L722.0,1477.9 L725.0,1476.6 L728.0,1476.7 L731.0,1476.6 L734.0,1477.9 L737.0,1479.0 L740.0,1480.7 L743.0,1481.3 L746.0,1482.4 L749.0,1483.5 L752.0,1483.8 L755.0,1483.6 L758.0,1483.7 L761.0,1484.2 L764.0,1484.1 L767.0,1483.5 L770.0,1483.3 L773.0,1483.1 L776.0,1482.8 L779.0,1483.0 L782.0,1482.4 L785.0,1482.4 L788.0,1482.4 L791.0,1482.1 L794.0,1482.3 L797.0,1482.6 L800.0,1483.2 L803.0,1483.0 L806.0,1482.2 L809.0,1481.2 L812.0,1480.5 L815.0,1480.3 L818.0,1479.0 L821.0,1478.5 L824.0,1478.8 L827.0,1480.2 L830.0,1481.1 L833.0,1482.7 L836.0,1482.9 L839.0,1482.0 L842.0,1480.8 L845.0,1480.1 L848.0,1479.5 L851.0,1479.3 L854.0,1478.4 L857.0,1477.8 L860.0,1476.5 L863.0,1476.1 L866.0,1476.1 L869.0,1477.0 L872.0,1476.8 L875.0,1477.4 L878.0,1477.8 L881.0,1477.9 L884.0,1478.6 L887.0,1479.1 L890.0,1478.9 L893.0,1478.5 L896.0,1478.2 L899.0,1477.9 L902.0,1478.1 L905.0,1478.6 L908.0,1479.8 L911.0,1480.5 L914.0,1480.6 L917.0,1481.2 L920.0,1481.9 L923.0,1483.0 L926.0,1482.8 L929.0,1481.6 L932.0,1481.7 L935.0,1481.5 L938.0,1481.0 L941.0,1480.7 L944.0,1481.2 L947.0,1481.4 L950.0,1482.3 L953.0,1482.6 L956.0,1482.8 L959.0,1483.0 L962.0,1482.6 L965.0,1483.4 L968.0,1482.2 L971.0,1481.9 L974.0,1481.5 L977.0,1482.0 L980.0,1481.4 L983.0,1480.4 L986.0,1480.7 L989.0,1479.6 L992.0,1480.0 L995.0,1479.8 L998.0,1479.7 L1001.0,1479.0 L1004.0,1478.7 L1007.0,1478.9 L1010.0,1478.2 L1013.0,1477.8 L1016.0,1477.9 L1019.0,1477.8 L1022.0,1478.3 L1025.0,1478.6 L1028.0,1479.2 L1031.0,1480.2 L1034.0,1479.5 L1037.0,1478.8 L1040.0,1477.2 L1043.0,1476.4 L1046.0,1476.5 L1049.0,1477.7 L1052.0,1477.6 L1055.0,1478.9 L1058.0,1479.4 L1061.0,1480.0 L1064.0,1479.1 L1067.0,1478.3 L1070.0,1476.9 L1073.0,1475.7 L1076.0,1475.1 L1079.0,1474.8 L1082.0,1475.1 L1085.0,1475.8 L1088.0,1476.3 L1091.0,1476.0 L1094.0,1476.0 L1097.0,1476.7 L1100.0,1476.7 L1103.0,1477.6 L1106.0,1477.5 L1109.0,1478.3 L1112.0,1479.2 L1115.0,1479.5 L1118.0,1480.0 L1121.0,1480.7 L1124.0,1481.2 L1127.0,1481.7 L1130.0,1481.7 L1133.0,1481.1 L1136.0,1480.6 L1139.0,1479.6 L1142.0,1479.5 L1145.0,1478.9 L1148.0,1478.3 L1151.0,1478.3 L1154.0,1478.6 L1157.0,1478.8 L1160.0,1479.2 L1163.0,1479.7 L1166.0,1479.3 L1169.0,1479.5 L1172.0,1479.3 L1175.0,1479.4 L1178.0,1479.0 L1181.0,1479.6 L1184.0,1478.9 L1187.0,1478.5 L1190.0,1479.4 L1193.0,1480.0 L1196.0,1480.4 L1199.0,1480.7 L1202.0,1481.0 L1205.0,1481.3 L1208.0,1482.5 L1211.0,1482.2 L1214.0,1481.6 L1217.0,1480.0 L1220.0,1479.7 L1223.0,1479.5 L1226.0,1478.2 L1229.0,1477.5 L1232.0,1477.6 L1235.0,1477.4 L1238.0,1477.6 L1241.0,1476.9 L1244.0,1477.4 L1247.0,1476.3 L1250.0,1476.9 L1253.0,1477.6 L1256.0,1478.6 L1259.0,1479.4 L1262.0,1480.3 L1265.0,1481.6 L1268.0,1482.4 L1271.0,1482.8 L1274.0,1481.8 L1277.0,1481.1 L1280.0,1480.5 L1283.0,1480.1 L1286.0,1480.0 L1289.0,1479.0 L1292.0,1478.6 L1295.0,1478.8 L1298.0,1478.2 L1301.0,1478.0 L1304.0,1477.6 L1307.0,1477.5 L1310.0,1476.4 L1313.0,1475.6 L1316.0,1475.9 L1319.0,1475.1 L1322.0,1475.8 L1325.0,1476.3 L1328.0,1476.6 L1331.0,1477.4 L1334.0,1478.1 L1337.0,1479.0 L1340.0,1479.5 L1343.0,1479.3 L1346.0,1479.2 L1349.0,1479.8 L1352.0,1479.5 L1355.0,1479.3 L1358.0,1479.4 L1361.0,1480.0 L1364.0,1480.1 L1367.0,1479.6 L1370.0,1479.9 L1373.0,1479.6 L1376.0,1480.0 L1379.0,1479.7 L1382.0,1479.3 L1385.0,1479.5 L1388.0,1479.6 L1391.0,1478.8 L1394.0,1478.4 L1397.0,1477.8 L1400.0,1477.2 L1403.0,1475.8 L1406.0,1475.0 L1409.0,1473.9 L1412.0,1473.3 L1415.0,1474.2 L1418.0,1475.9 L1421.0,1477.5 L1424.0,1479.0 L1427.0,1478.8 L1430.0,1478.6 L1433.0,1477.8 L1436.0,1477.0 L1439.0,1477.0 L1442.0,1476.3 L1445.0,1476.4 L1448.0,1475.8 L1451.0,1475.1 L1454.0,1475.5 L1457.0,1476.6 L1460.0,1476.9 L1463.0,1476.8 L1466.0,1478.2 L1469.0,1478.5 L1472.0,1478.8 L1475.0,1478.3 L1478.0,1478.0 L1481.0,1477.3 L1484.0,1476.7 L1487.0,1476.9 L1490.0,1476.8 L1493.0,1476.7 L1496.0,1477.4 L1499.0,1477.3 L1502.0,1477.2 L1505.0,1477.3 L1508.0,1477.3 L1511.0,1477.2 L1514.0,1477.1 L1517.0,1477.1 L1520.0,1477.4 L1523.0,1476.6 L1526.0,1477.2 L1529.0,1478.2 L1532.0,1478.6 L1535.0,1479.7 L1538.0,1480.4 L1541.0,1481.5 L1544.0,1481.5 L1547.0,1480.2 L1550.0,1480.2 L1553.0,1479.8 L1556.0,1479.7 L1559.0,1479.3 L1562.0,1478.9 L1565.0,1478.7 L1568.0,1478.4 L1571.0,1478.3 L1574.0,1477.4 L1577.0,1477.6 L1580.0,1477.6 L1583.0,1479.1 L1586.0,1479.7 L1589.0,1479.9 L1592.0,1479.8 L1595.0,1477.5 L1598.0,1474.2 L1601.0,1471.1 L1604.0,1467.8 L1607.0,1463.2 L1610.0,1461.4 L1613.0,1458.4 L1616.0,1456.7 L1619.0,1454.6 L1622.0,1451.6 L1625.0,1446.8 L1628.0,1439.9 L1631.0,1430.5 L1634.0,1418.2 L1637.0,1403.3 L1640.0,1385.2 L1643.0,1364.2 L1646.0,1340.1 L1649.0,1313.5 L1652.0,1285.2 L1655.0,1255.8 L1658.0,1226.6 L1661.0,1198.6 L1664.0,1172.9 L1667.0,1150.8 L1670.0,1133.5 L1673.0,1121.8 L1676.0,1116.3 L1677.0,1115.8 L1679.0,1117.0 L1682.0,1124.3 L1685.0,1137.6 L1688.0,1156.2 L1691.0,1179.8 L1694.0,1206.6 L1697.0,1235.5 L1700.0,1265.0 L1703.0,1294.4 L1706.0,1322.6 L1709.0,1348.9 L1712.0,1372.4 L1715.0,1393.0 L1718.0,1410.5 L1721.0,1425.1 L1724.0,1436.4 L1727.0,1445.6 L1730.0,1454.1 L1733.0,1460.6 L1736.0,1465.2 L1739.0,1468.5 L1742.0,1471.9 L1745.0,1473.7 L1748.0,1475.3 L1751.0,1477.3 L1754.0,1478.3 L1757.0,1478.2 L1760.0,1477.0 L1763.0,1476.5 L1766.0,1476.7 L1769.0,1475.7 L1772.0,1475.2 L1775.0,1474.1 L1778.0,1473.8 L1781.0,1473.7 L1784.0,1474.6 L1787.0,1475.2 L1790.0,1476.0 L1793.0,1477.0 L1796.0,1478.7 L1799.0,1478.1 L1802.0,1478.0 L1805.0,1478.4 L1808.0,1477.7 L1811.0,1477.5 L1814.0,1478.1 L1817.0,1478.0 L1820.0,1477.1 L1823.0,1476.1 L1826.0,1475.3 L1829.0,1474.0 L1832.0,1473.0 L1835.0,1471.9 L1838.0,1472.8 L1841.0,1474.1 L1844.0,1474.8 L1847.0,1475.5 L1850.0,1477.0 L1853.0,1476.7 L1856.0,1475.7 L1859.0,1475.4 L1862.0,1473.9 L1865.0,1473.1 L1868.0,1473.5 L1871.0,1473.1 L1874.0,1474.1 L1877.0,1473.9 L1880.0,1474.1 L1883.0,1474.4 L1886.0,1474.7 L1889.0,1475.7 L1892.0,1476.4 L1895.0,1477.1 L1898.0,1478.3 L1901.0,1479.0 L1904.0,1478.0 L1907.0,1476.6 L1910.0,1475.5 L1913.0,1473.8 L1916.0,1471.8 L1919.0,1472.9 L1922.0,1474.1 L1925.0,1474.7 L1928.0,1474.9 L1931.0,1475.7 L1934.0,1476.6 L1937.0,1477.7 L1940.0,1478.5 L1943.0,1478.8 L1946.0,1478.8 L1949.0,1478.3 L1952.0,1477.8 L1955.0,1477.2 L1958.0,1476.6 L1961.0,1475.9 L1964.0,1475.8 L1967.0,1475.6 L1970.0,1475.4 L1973.0,1475.1 L1976.0,1475.7 L1979.0,1476.1 L1982.0,1476.5 L1985.0,1477.3 L1988.0,1477.6 L1991.0,1477.7 L1994.0,1477.7 L1997.0,1478.4 L2000.0,1478.4 L2003.0,1478.1 L2006.0,1477.2 L2009.0,1476.9 L2012.0,1476.5 L2015.0,1476.7 L2018.0,1476.2 L2021.0,1476.0 L2024.0,1476.1 L2027.0,1475.6 L2030.0,1476.3 L2033.0,1475.7 L2036.0,1475.3 L2039.0,1475.2 L2042.0,1474.2 L2045.0,1473.9 L2048.0,1472.2 L2051.0,1471.3 L2054.0,1469.4 L2057.0,1467.8 L2060.0,1465.2 L2063.0,1462.9 L2066.0,1459.6 L2069.0,1455.7 L2072.0,1450.7 L2075.0,1445.6 L2078.0,1440.0 L2081.0,1434.7 L2084.0,1429.0 L2087.0,1423.9 L2090.0,1419.3 L2093.0,1416.1 L2096.0,1414.0 L2099.0,1413.2 L2102.0,1413.9 L2105.0,1416.6 L2108.0,1420.9 L2111.0,1425.9 L2114.0,1431.9 L2117.0,1438.1 L2120.0,1444.3 L2123.0,1450.9 L2126.0,1456.3 L2129.0,1460.7 L2132.0,1464.8 L2135.0,1468.7 L2138.0,1471.1 L2141.0,1473.1 L2144.0,1473.6 L2147.0,1474.9 L2150.0,1475.8 L2153.0,1476.6 L2156.0,1476.9 L2159.0,1476.5 L2162.0,1476.4 L2165.0,1475.8 L2168.0,1474.9 L2171.0,1473.9 L2174.0,1473.3 L2177.0,1472.2 L2180.0,1471.2 L2183.0,1469.8" fill="none" stroke="#0000ff" stroke-width="6.5" stroke-linejoin="round" stroke-linecap="round"/>
<path d="M209.0,1592.2 L212.0,1594.0 L215.0,1594.8 L218.0,1596.1 L221.0,1597.1 L224.0,1598.0 L227.0,1599.0 L230.0,1598.8 L233.0,1598.0 L236.0,1598.2 L239.0,1598.1 L242.0,1597.9 L245.0,1597.8 L248.0,1597.6 L251.0,1596.8 L254.0,1596.5 L257.0,1596.3 L260.0,1595.3 L263.0,1594.7 L266.0,1594.3 L269.0,1594.3 L272.0,1593.1 L275.0,1592.3 L278.0,1591.3 L281.0,1590.5 L284.0,1590.8 L287.0,1589.3 L290.0,1589.2 L293.0,1587.5 L296.0,1586.1 L299.0,1584.5 L302.0,1583.7 L305.0,1581.3 L308.0,1580.0 L311.0,1577.4 L314.0,1576.8 L317.0,1575.9 L320.0,1576.1 L323.0,1575.9 L326.0,1577.1 L329.0,1578.5 L332.0,1580.5 L335.0,1582.9 L338.0,1585.8 L341.0,1588.6 L344.0,1590.2 L347.0,1591.6 L350.0,1593.2 L353.0,1593.2 L356.0,1593.3 L359.0,1593.2 L362.0,1593.8 L365.0,1594.9 L368.0,1595.6 L371.0,1596.5 L374.0,1596.9 L377.0,1597.6 L380.0,1598.3 L383.0,1598.1 L386.0,1598.6 L389.0,1598.5 L392.0,1599.0 L395.0,1598.7 L398.0,1598.6 L401.0,1599.5 L404.0,1599.4 L407.0,1598.7 L410.0,1598.4 L413.0,1597.9 L416.0,1596.9 L419.0,1596.6 L422.0,1596.4 L425.0,1596.2 L428.0,1596.1 L431.0,1596.8 L434.0,1596.6 L437.0,1596.2 L440.0,1595.9 L443.0,1596.3 L446.0,1596.2 L449.0,1595.8 L452.0,1595.6 L455.0,1596.2 L458.0,1596.2 L461.0,1597.8 L464.0,1598.6 L467.0,1599.3 L470.0,1599.4 L473.0,1598.6 L476.0,1598.7 L479.0,1598.3 L482.0,1597.9 L485.0,1597.5 L488.0,1596.5 L491.0,1596.1 L494.0,1596.7 L497.0,1597.5 L500.0,1597.8 L503.0,1598.7 L506.0,1599.2 L509.0,1599.3 L512.0,1599.5 L515.0,1599.8 L518.0,1598.9 L521.0,1599.0 L524.0,1599.6 L527.0,1599.7 L530.0,1598.8 L533.0,1598.9 L536.0,1598.9 L539.0,1598.3 L542.0,1598.1 L545.0,1597.1 L548.0,1596.8 L551.0,1596.8 L554.0,1595.9 L557.0,1595.9 L560.0,1596.6 L563.0,1596.7 L566.0,1596.5 L569.0,1596.7 L572.0,1597.1 L575.0,1596.0 L578.0,1595.6 L581.0,1595.1 L584.0,1595.0 L587.0,1594.4 L590.0,1593.4 L593.0,1593.8 L596.0,1594.0 L599.0,1595.6 L602.0,1596.5 L605.0,1597.8 L608.0,1598.2 L611.0,1596.7 L614.0,1595.1 L617.0,1593.7 L620.0,1591.8 L623.0,1592.3 L626.0,1592.7 L629.0,1593.0 L632.0,1593.6 L635.0,1593.2 L638.0,1593.2 L641.0,1594.3 L644.0,1594.3 L647.0,1594.7 L650.0,1594.6 L653.0,1595.0 L656.0,1594.8 L659.0,1595.6 L662.0,1595.8 L665.0,1596.4 L668.0,1597.3 L671.0,1598.0 L674.0,1598.4 L677.0,1599.4 L680.0,1599.2 L683.0,1598.6 L686.0,1597.2 L689.0,1595.6 L692.0,1594.7 L695.0,1594.4 L698.0,1594.5 L701.0,1594.8 L704.0,1594.0 L707.0,1593.2 L710.0,1590.5 L713.0,1588.0 L716.0,1585.5 L719.0,1582.3 L722.0,1579.6 L725.0,1578.4 L728.0,1577.5 L731.0,1578.6 L734.0,1581.0 L737.0,1583.8 L740.0,1585.7 L743.0,1588.9 L746.0,1591.1 L749.0,1593.1 L752.0,1594.7 L755.0,1596.7 L758.0,1598.1 L761.0,1599.2 L764.0,1599.4 L767.0,1600.6 L770.0,1598.8 L773.0,1597.4 L776.0,1595.1 L779.0,1593.4 L782.0,1593.6 L785.0,1595.0 L788.0,1596.8 L791.0,1598.1 L794.0,1599.4 L797.0,1598.1 L800.0,1597.7 L803.0,1597.4 L806.0,1596.2 L809.0,1596.0 L812.0,1595.5 L815.0,1594.7 L818.0,1594.4 L821.0,1594.1 L824.0,1594.2 L827.0,1594.4 L830.0,1593.8 L833.0,1593.7 L836.0,1593.9 L839.0,1593.3 L842.0,1592.7 L845.0,1592.4 L848.0,1592.4 L851.0,1592.9 L854.0,1593.7 L857.0,1594.1 L860.0,1595.1 L863.0,1596.7 L866.0,1597.0 L869.0,1597.9 L872.0,1599.0 L875.0,1599.7 L878.0,1599.7 L881.0,1599.8 L884.0,1599.8 L887.0,1599.9 L890.0,1599.2 L893.0,1599.8 L896.0,1599.0 L899.0,1599.3 L902.0,1599.6 L905.0,1598.4 L908.0,1598.1 L911.0,1597.3 L914.0,1596.3 L917.0,1596.1 L920.0,1594.9 L923.0,1595.1 L926.0,1594.5 L929.0,1594.0 L932.0,1595.7 L935.0,1596.6 L938.0,1597.6 L941.0,1599.6 L944.0,1601.0 L947.0,1601.4 L950.0,1600.5 L953.0,1599.6 L956.0,1598.8 L959.0,1598.2 L962.0,1597.1 L965.0,1596.9 L968.0,1596.1 L971.0,1596.4 L974.0,1595.8 L977.0,1596.2 L980.0,1596.0 L983.0,1597.1 L986.0,1596.6 L989.0,1596.5 L992.0,1597.0 L995.0,1596.8 L998.0,1596.4 L1001.0,1596.6 L1004.0,1596.4 L1007.0,1595.1 L1010.0,1594.9 L1013.0,1594.4 L1016.0,1594.1 L1019.0,1593.8 L1022.0,1593.2 L1025.0,1594.3 L1028.0,1593.8 L1031.0,1594.9 L1034.0,1594.6 L1037.0,1595.4 L1040.0,1594.9 L1043.0,1595.1 L1046.0,1595.0 L1049.0,1594.8 L1052.0,1594.8 L1055.0,1595.2 L1058.0,1595.1 L1061.0,1594.5 L1064.0,1595.3 L1067.0,1594.7 L1070.0,1594.8 L1073.0,1595.0 L1076.0,1595.2 L1079.0,1594.0 L1082.0,1593.6 L1085.0,1593.4 L1088.0,1593.0 L1091.0,1594.5 L1094.0,1596.0 L1097.0,1597.8 L1100.0,1599.3 L1103.0,1599.1 L1106.0,1598.3 L1109.0,1597.4 L1112.0,1596.7 L1115.0,1596.4 L1118.0,1595.3 L1121.0,1597.2 L1124.0,1598.5 L1127.0,1600.1 L1130.0,1601.2 L1133.0,1600.6 L1136.0,1599.9 L1139.0,1598.9 L1142.0,1597.6 L1145.0,1596.5 L1148.0,1595.9 L1151.0,1595.3 L1154.0,1594.1 L1157.0,1593.9 L1160.0,1593.4 L1163.0,1595.0 L1166.0,1595.5 L1169.0,1596.9 L1172.0,1598.2 L1175.0,1599.0 L1178.0,1597.5 L1181.0,1596.3 L1184.0,1595.3 L1187.0,1593.8 L1190.0,1593.6 L1193.0,1594.1 L1196.0,1594.0 L1199.0,1594.9 L1202.0,1595.0 L1205.0,1595.3 L1208.0,1594.9 L1211.0,1595.2 L1214.0,1595.0 L1217.0,1594.3 L1220.0,1594.6 L1223.0,1594.1 L1226.0,1594.1 L1229.0,1594.0 L1232.0,1593.6 L1235.0,1593.2 L1238.0,1594.5 L1241.0,1594.7 L1244.0,1595.8 L1247.0,1596.2 L1250.0,1597.6 L1253.0,1598.1 L1256.0,1598.3 L1259.0,1598.8 L1262.0,1599.4 L1265.0,1599.7 L1268.0,1599.5 L1271.0,1599.8 L1274.0,1600.0 L1277.0,1598.6 L1280.0,1597.3 L1283.0,1596.8 L1286.0,1595.4 L1289.0,1594.2 L1292.0,1594.0 L1295.0,1592.8 L1298.0,1593.4 L1301.0,1592.5 L1304.0,1592.3 L1307.0,1592.4 L1310.0,1592.2 L1313.0,1592.1 L1316.0,1591.9 L1319.0,1592.3 L1322.0,1593.0 L1325.0,1593.1 L1328.0,1594.1 L1331.0,1593.9 L1334.0,1594.8 L1337.0,1595.2 L1340.0,1595.7 L1343.0,1597.0 L1346.0,1597.4 L1349.0,1597.8 L1352.0,1598.8 L1355.0,1598.8 L1358.0,1598.2 L1361.0,1596.9 L1364.0,1596.2 L1367.0,1595.0 L1370.0,1594.2 L1373.0,1593.0 L1376.0,1592.6 L1379.0,1593.1 L1382.0,1593.5 L1385.0,1593.9 L1388.0,1594.2 L1391.0,1594.4 L1394.0,1594.7 L1397.0,1594.0 L1400.0,1593.8 L1403.0,1594.3 L1406.0,1594.5 L1409.0,1593.8 L1412.0,1594.0 L1415.0,1593.7 L1418.0,1594.0 L1421.0,1594.2 L1424.0,1593.6 L1427.0,1593.5 L1430.0,1593.2 L1433.0,1594.8 L1436.0,1595.6 L1439.0,1598.1 L1442.0,1598.8 L1445.0,1599.5 L1448.0,1599.4 L1451.0,1598.9 L1454.0,1598.6 L1457.0,1599.3 L1460.0,1598.6 L1463.0,1599.0 L1466.0,1598.5 L1469.0,1598.2 L1472.0,1597.6 L1475.0,1597.3 L1478.0,1597.1 L1481.0,1597.4 L1484.0,1596.6 L1487.0,1597.0 L1490.0,1596.5 L1493.0,1596.1 L1496.0,1596.9 L1499.0,1595.8 L1502.0,1596.5 L1505.0,1595.5 L1508.0,1595.3 L1511.0,1595.0 L1514.0,1595.0 L1517.0,1594.9 L1520.0,1593.8 L1523.0,1593.8 L1526.0,1593.4 L1529.0,1592.7 L1532.0,1592.2 L1535.0,1591.4 L1538.0,1591.1 L1541.0,1591.8 L1544.0,1592.1 L1547.0,1592.3 L1550.0,1593.8 L1553.0,1594.3 L1556.0,1594.4 L1559.0,1595.2 L1562.0,1595.8 L1565.0,1597.1 L1568.0,1595.7 L1571.0,1595.5 L1574.0,1595.0 L1577.0,1594.2 L1580.0,1594.2 L1583.0,1592.7 L1586.0,1592.7 L1589.0,1591.1 L1592.0,1589.4 L1595.0,1588.8 L1598.0,1587.2 L1601.0,1584.3 L1604.0,1581.3 L1607.0,1578.4 L1610.0,1574.8 L1613.0,1569.0 L1616.0,1561.2 L1619.0,1548.9 L1622.0,1530.6 L1625.0,1504.9 L1628.0,1470.4 L1631.0,1426.7 L1634.0,1372.6 L1637.0,1307.7 L1640.0,1233.1 L1643.0,1149.0 L1646.0,1057.5 L1649.0,961.2 L1652.0,862.6 L1655.0,766.0 L1658.0,674.5 L1661.0,591.6 L1664.0,520.3 L1667.0,463.2 L1670.0,421.3 L1673.0,395.1 L1676.0,383.0 L1678.0,381.1 L1679.0,381.6 L1682.0,389.8 L1685.0,411.6 L1688.0,448.4 L1691.0,500.9 L1694.0,567.9 L1697.0,647.5 L1700.0,737.0 L1703.0,832.8 L1706.0,931.5 L1709.0,1029.2 L1712.0,1122.6 L1715.0,1209.5 L1718.0,1287.8 L1721.0,1356.4 L1724.0,1414.2 L1727.0,1462.1 L1730.0,1499.7 L1733.0,1529.3 L1736.0,1551.8 L1739.0,1567.8 L1742.0,1579.4 L1745.0,1587.0 L1748.0,1593.5 L1751.0,1596.8 L1754.0,1599.9 L1757.0,1601.6 L1760.0,1603.0 L1763.0,1603.6 L1766.0,1603.4 L1769.0,1603.9 L1772.0,1603.0 L1775.0,1602.0 L1778.0,1601.2 L1781.0,1599.9 L1784.0,1599.2 L1787.0,1598.3 L1790.0,1596.9 L1793.0,1597.6 L1796.0,1598.0 L1799.0,1599.1 L1802.0,1600.0 L1805.0,1600.9 L1808.0,1601.3 L1811.0,1601.9 L1814.0,1602.4 L1817.0,1602.1 L1820.0,1602.6 L1823.0,1602.5 L1826.0,1602.5 L1829.0,1601.6 L1832.0,1601.5 L1835.0,1601.1 L1838.0,1600.1 L1841.0,1599.8 L1844.0,1599.1 L1847.0,1598.5 L1850.0,1598.3 L1853.0,1598.0 L1856.0,1599.7 L1859.0,1601.1 L1862.0,1603.1 L1865.0,1603.6 L1868.0,1603.8 L1871.0,1603.6 L1874.0,1603.3 L1877.0,1603.2 L1880.0,1603.2 L1883.0,1603.3 L1886.0,1603.1 L1889.0,1603.1 L1892.0,1603.3 L1895.0,1602.9 L1898.0,1603.0 L1901.0,1603.4 L1904.0,1603.6 L1907.0,1603.6 L1910.0,1603.0 L1913.0,1603.9 L1916.0,1603.6 L1919.0,1603.2 L1922.0,1603.5 L1925.0,1603.6 L1928.0,1603.8 L1931.0,1603.3 L1934.0,1604.0 L1937.0,1602.9 L1940.0,1602.5 L1943.0,1602.1 L1946.0,1602.0 L1949.0,1602.0 L1952.0,1602.8 L1955.0,1602.9 L1958.0,1603.4 L1961.0,1603.1 L1964.0,1603.8 L1967.0,1602.9 L1970.0,1603.2 L1973.0,1602.5 L1976.0,1602.1 L1979.0,1601.1 L1982.0,1600.9 L1985.0,1600.3 L1988.0,1599.4 L1991.0,1599.2 L1994.0,1599.0 L1997.0,1597.5 L2000.0,1597.8 L2003.0,1596.3 L2006.0,1596.2 L2009.0,1596.5 L2012.0,1597.2 L2015.0,1598.6 L2018.0,1600.2 L2021.0,1600.9 L2024.0,1601.2 L2027.0,1600.7 L2030.0,1601.9 L2033.0,1601.6 L2036.0,1601.7 L2039.0,1602.7 L2042.0,1601.2 L2045.0,1599.9 L2048.0,1598.8 L2051.0,1596.4 L2054.0,1594.3 L2057.0,1591.4 L2060.0,1586.5 L2063.0,1581.8 L2066.0,1574.9 L2069.0,1565.2 L2072.0,1552.1 L2075.0,1535.6 L2078.0,1515.5 L2081.0,1492.6 L2084.0,1468.1 L2087.0,1443.0 L2090.0,1418.8 L2093.0,1398.8 L2096.0,1384.0 L2099.0,1376.5 L2100.0,1375.8 L2102.0,1376.6 L2105.0,1383.8 L2108.0,1397.4 L2111.0,1416.2 L2114.0,1438.1 L2117.0,1461.1 L2120.0,1483.7 L2123.0,1504.1 L2126.0,1521.6 L2129.0,1536.3 L2132.0,1548.3 L2135.0,1557.5 L2138.0,1564.4 L2141.0,1569.5 L2144.0,1573.4 L2147.0,1575.8 L2150.0,1578.0 L2153.0,1578.9 L2156.0,1578.1 L2159.0,1577.9 L2162.0,1577.1 L2165.0,1576.0 L2168.0,1575.0 L2171.0,1576.1 L2174.0,1576.8 L2177.0,1578.0 L2180.0,1578.3 L2183.0,1579.8" fill="none" stroke="#ff00ff" stroke-width="6.5" stroke-linejoin="round" stroke-linecap="round"/>
<path d="M209.0,1719.8 L212.0,1720.2 L215.0,1719.7 L218.0,1720.0 L221.0,1719.7 L224.0,1720.0 L227.0,1719.3 L230.0,1719.6 L233.0,1719.1 L236.0,1718.5 L239.0,1717.5 L242.0,1717.3 L245.0,1716.6 L248.0,1715.8 L251.0,1715.0 L254.0,1713.8 L257.0,1713.8 L260.0,1713.7 L263.0,1714.7 L266.0,1715.9 L269.0,1717.0 L272.0,1717.6 L275.0,1718.4 L278.0,1718.4 L281.0,1716.1 L284.0,1712.9 L287.0,1708.5 L290.0,1702.9 L293.0,1695.1 L296.0,1685.9 L299.0,1675.2 L302.0,1663.3 L305.0,1650.4 L308.0,1637.9 L311.0,1626.3 L314.0,1617.4 L317.0,1611.6 L320.0,1609.6 L323.0,1611.8 L326.0,1617.5 L329.0,1626.5 L332.0,1637.4 L335.0,1649.3 L338.0,1661.8 L341.0,1673.4 L344.0,1684.0 L347.0,1692.4 L350.0,1698.4 L353.0,1704.1 L356.0,1707.8 L359.0,1711.0 L362.0,1713.0 L365.0,1714.1 L368.0,1715.7 L371.0,1716.5 L374.0,1716.8 L377.0,1717.5 L380.0,1718.0 L383.0,1719.4 L386.0,1719.5 L389.0,1719.7 L392.0,1720.0 L395.0,1719.9 L398.0,1720.1 L401.0,1720.2 L404.0,1720.3 L407.0,1720.0 L410.0,1720.1 L413.0,1718.9 L416.0,1719.0 L419.0,1717.7 L422.0,1717.2 L425.0,1715.5 L428.0,1714.1 L431.0,1714.2 L434.0,1713.8 L437.0,1714.4 L440.0,1714.8 L443.0,1715.3 L446.0,1715.0 L449.0,1715.5 L452.0,1715.4 L455.0,1715.4 L458.0,1717.4 L461.0,1718.8 L464.0,1720.3 L467.0,1720.9 L470.0,1722.9 L473.0,1721.6 L476.0,1721.0 L479.0,1721.0 L482.0,1720.3 L485.0,1719.6 L488.0,1719.3 L491.0,1718.0 L494.0,1717.6 L497.0,1717.5 L500.0,1717.4 L503.0,1717.6 L506.0,1718.2 L509.0,1717.9 L512.0,1718.4 L515.0,1718.1 L518.0,1718.9 L521.0,1719.1 L524.0,1718.7 L527.0,1718.7 L530.0,1718.5 L533.0,1717.6 L536.0,1716.7 L539.0,1716.8 L542.0,1716.7 L545.0,1716.0 L548.0,1715.7 L551.0,1716.6 L554.0,1716.7 L557.0,1717.8 L560.0,1717.4 L563.0,1718.5 L566.0,1718.4 L569.0,1719.2 L572.0,1719.6 L575.0,1719.3 L578.0,1719.6 L581.0,1720.2 L584.0,1720.2 L587.0,1720.2 L590.0,1720.3 L593.0,1720.6 L596.0,1721.0 L599.0,1720.4 L602.0,1720.5 L605.0,1719.4 L608.0,1718.7 L611.0,1717.2 L614.0,1716.8 L617.0,1715.9 L620.0,1715.1 L623.0,1714.6 L626.0,1714.5 L629.0,1714.2 L632.0,1714.3 L635.0,1714.8 L638.0,1715.1 L641.0,1715.5 L644.0,1715.7 L647.0,1715.4 L650.0,1714.2 L653.0,1714.5 L656.0,1713.6 L659.0,1714.0 L662.0,1713.8 L665.0,1713.4 L668.0,1713.5 L671.0,1714.2 L674.0,1714.6 L677.0,1715.2 L680.0,1714.9 L683.0,1715.7 L686.0,1715.8 L689.0,1716.0 L692.0,1716.4 L695.0,1716.3 L698.0,1715.3 L701.0,1714.0 L704.0,1710.1 L707.0,1704.7 L710.0,1697.4 L713.0,1688.4 L716.0,1679.5 L719.0,1669.5 L722.0,1660.9 L725.0,1655.4 L728.0,1651.6 L731.0,1651.2 L734.0,1654.4 L737.0,1658.2 L740.0,1664.3 L743.0,1671.0 L746.0,1678.7 L749.0,1687.5 L752.0,1696.5 L755.0,1703.5 L758.0,1709.4 L761.0,1714.2 L764.0,1716.7 L767.0,1717.8 L770.0,1718.0 L773.0,1717.9 L776.0,1716.9 L779.0,1716.2 L782.0,1715.3 L785.0,1715.2 L788.0,1713.7 L791.0,1713.8 L794.0,1714.4 L797.0,1714.4 L800.0,1714.8 L803.0,1715.6 L806.0,1716.1 L809.0,1716.4 L812.0,1716.7 L815.0,1717.2 L818.0,1715.8 L821.0,1715.9 L824.0,1715.2 L827.0,1715.3 L830.0,1714.3 L833.0,1713.9 L836.0,1714.2 L839.0,1713.9 L842.0,1714.3 L845.0,1714.8 L848.0,1715.6 L851.0,1715.5 L854.0,1715.3 L857.0,1715.0 L860.0,1715.5 L863.0,1715.1 L866.0,1715.4 L869.0,1715.8 L872.0,1715.6 L875.0,1716.4 L878.0,1717.0 L881.0,1717.9 L884.0,1718.4 L887.0,1719.5 L890.0,1719.9 L893.0,1720.9 L896.0,1721.2 L899.0,1721.9 L902.0,1720.9 L905.0,1720.9 L908.0,1720.1 L911.0,1719.3 L914.0,1718.8 L917.0,1718.3 L920.0,1717.4 L923.0,1717.5 L926.0,1716.7 L929.0,1717.6 L932.0,1717.3 L935.0,1717.3 L938.0,1717.6 L941.0,1718.5 L944.0,1718.4 L947.0,1717.7 L950.0,1716.9 L953.0,1716.6 L956.0,1716.2 L959.0,1715.7 L962.0,1715.4 L965.0,1714.5 L968.0,1715.4 L971.0,1715.9 L974.0,1716.9 L977.0,1717.9 L980.0,1718.8 L983.0,1719.3 L986.0,1719.7 L989.0,1720.5 L992.0,1720.1 L995.0,1718.8 L998.0,1718.2 L1001.0,1717.5 L1004.0,1716.8 L1007.0,1716.1 L1010.0,1714.3 L1013.0,1713.6 L1016.0,1713.1 L1019.0,1712.9 L1022.0,1712.8 L1025.0,1713.3 L1028.0,1712.7 L1031.0,1712.5 L1034.0,1712.9 L1037.0,1712.6 L1040.0,1713.3 L1043.0,1712.8 L1046.0,1714.1 L1049.0,1714.5 L1052.0,1714.6 L1055.0,1715.3 L1058.0,1716.2 L1061.0,1716.8 L1064.0,1715.7 L1067.0,1715.2 L1070.0,1714.8 L1073.0,1715.5 L1076.0,1715.2 L1079.0,1715.0 L1082.0,1714.6 L1085.0,1714.6 L1088.0,1713.8 L1091.0,1714.5 L1094.0,1714.3 L1097.0,1714.5 L1100.0,1714.7 L1103.0,1714.4 L1106.0,1714.6 L1109.0,1714.4 L1112.0,1713.7 L1115.0,1713.5 L1118.0,1712.2 L1121.0,1710.5 L1124.0,1708.8 L1127.0,1706.9 L1130.0,1704.8 L1133.0,1702.7 L1136.0,1700.9 L1139.0,1699.8 L1142.0,1699.3 L1145.0,1700.2 L1148.0,1701.9 L1151.0,1703.7 L1154.0,1706.8 L1157.0,1708.7 L1160.0,1709.9 L1163.0,1711.0 L1166.0,1711.2 L1169.0,1712.2 L1172.0,1713.1 L1175.0,1713.2 L1178.0,1713.2 L1181.0,1713.2 L1184.0,1712.4 L1187.0,1714.4 L1190.0,1717.0 L1193.0,1718.4 L1196.0,1720.0 L1199.0,1720.1 L1202.0,1719.1 L1205.0,1718.6 L1208.0,1717.9 L1211.0,1716.7 L1214.0,1716.0 L1217.0,1715.8 L1220.0,1716.1 L1223.0,1717.1 L1226.0,1717.2 L1229.0,1717.0 L1232.0,1717.1 L1235.0,1717.5 L1238.0,1717.5 L1241.0,1717.2 L1244.0,1716.9 L1247.0,1717.2 L1250.0,1716.5 L1253.0,1716.4 L1256.0,1716.5 L1259.0,1716.2 L1262.0,1715.6 L1265.0,1715.3 L1268.0,1714.6 L1271.0,1714.4 L1274.0,1713.9 L1277.0,1713.8 L1280.0,1712.9 L1283.0,1713.1 L1286.0,1713.8 L1289.0,1712.9 L1292.0,1713.3 L1295.0,1713.4 L1298.0,1713.8 L1301.0,1713.3 L1304.0,1714.9 L1307.0,1715.4 L1310.0,1716.9 L1313.0,1718.0 L1316.0,1718.3 L1319.0,1719.8 L1322.0,1720.6 L1325.0,1720.3 L1328.0,1719.2 L1331.0,1719.9 L1334.0,1719.4 L1337.0,1719.0 L1340.0,1719.1 L1343.0,1719.4 L1346.0,1719.1 L1349.0,1719.2 L1352.0,1718.4 L1355.0,1718.7 L1358.0,1718.1 L1361.0,1718.2 L1364.0,1717.3 L1367.0,1717.4 L1370.0,1717.0 L1373.0,1716.1 L1376.0,1715.8 L1379.0,1714.8 L1382.0,1714.9 L1385.0,1714.4 L1388.0,1714.5 L1391.0,1714.5 L1394.0,1714.3 L1397.0,1714.3 L1400.0,1714.5 L1403.0,1713.9 L1406.0,1714.2 L1409.0,1714.6 L1412.0,1714.7 L1415.0,1715.4 L1418.0,1715.4 L1421.0,1715.1 L1424.0,1715.6 L1427.0,1715.5 L1430.0,1716.3 L1433.0,1717.1 L1436.0,1718.3 L1439.0,1718.9 L1442.0,1719.6 L1445.0,1721.0 L1448.0,1722.0 L1451.0,1721.2 L1454.0,1721.6 L1457.0,1722.0 L1460.0,1721.7 L1463.0,1721.2 L1466.0,1722.0 L1469.0,1721.3 L1472.0,1721.5 L1475.0,1721.0 L1478.0,1720.2 L1481.0,1719.9 L1484.0,1718.8 L1487.0,1718.1 L1490.0,1717.6 L1493.0,1717.8 L1496.0,1717.1 L1499.0,1717.1 L1502.0,1717.2 L1505.0,1717.4 L1508.0,1717.2 L1511.0,1717.5 L1514.0,1717.6 L1517.0,1717.3 L1520.0,1717.1 L1523.0,1717.0 L1526.0,1717.3 L1529.0,1716.6 L1532.0,1716.2 L1535.0,1716.3 L1538.0,1716.7 L1541.0,1716.5 L1544.0,1716.6 L1547.0,1717.2 L1550.0,1716.8 L1553.0,1717.7 L1556.0,1718.4 L1559.0,1718.8 L1562.0,1718.9 L1565.0,1720.1 L1568.0,1720.4 L1571.0,1720.3 L1574.0,1720.4 L1577.0,1719.4 L1580.0,1718.7 L1583.0,1716.5 L1586.0,1714.1 L1589.0,1711.2 L1592.0,1709.5 L1595.0,1708.3 L1598.0,1708.2 L1601.0,1710.0 L1604.0,1711.0 L1607.0,1711.1 L1610.0,1710.8 L1613.0,1711.2 L1616.0,1711.7 L1619.0,1711.2 L1622.0,1711.2 L1625.0,1709.2 L1628.0,1705.7 L1631.0,1700.6 L1634.0,1694.2 L1637.0,1685.8 L1640.0,1675.4 L1643.0,1662.7 L1646.0,1647.1 L1649.0,1629.4 L1652.0,1608.7 L1655.0,1585.7 L1658.0,1560.1 L1661.0,1533.2 L1664.0,1505.7 L1667.0,1478.8 L1670.0,1453.5 L1673.0,1432.3 L1676.0,1416.0 L1679.0,1407.0 L1680.0,1406.0 L1682.0,1408.8 L1685.0,1420.6 L1688.0,1438.9 L1691.0,1461.6 L1694.0,1487.8 L1697.0,1515.2 L1700.0,1542.7 L1703.0,1569.3 L1706.0,1593.9 L1709.0,1616.1 L1712.0,1635.6 L1715.0,1652.4 L1718.0,1666.5 L1721.0,1677.8 L1724.0,1686.3 L1727.0,1693.6 L1730.0,1699.0 L1733.0,1704.0 L1736.0,1707.0 L1739.0,1709.0 L1742.0,1710.1 L1745.0,1711.8 L1748.0,1713.0 L1751.0,1713.5 L1754.0,1715.0 L1757.0,1715.7 L1760.0,1716.8 L1763.0,1717.4 L1766.0,1718.2 L1769.0,1717.4 L1772.0,1717.2 L1775.0,1716.2 L1778.0,1715.2 L1781.0,1715.3 L1784.0,1714.8 L1787.0,1714.0 L1790.0,1713.7 L1793.0,1714.0 L1796.0,1714.7 L1799.0,1714.7 L1802.0,1715.3 L1805.0,1715.5 L1808.0,1715.3 L1811.0,1716.1 L1814.0,1715.6 L1817.0,1715.8 L1820.0,1714.5 L1823.0,1713.4 L1826.0,1712.9 L1829.0,1712.0 L1832.0,1710.8 L1835.0,1710.0 L1838.0,1709.8 L1841.0,1709.8 L1844.0,1710.8 L1847.0,1711.2 L1850.0,1710.7 L1853.0,1711.0 L1856.0,1711.2 L1859.0,1712.0 L1862.0,1712.2 L1865.0,1711.9 L1868.0,1711.7 L1871.0,1712.6 L1874.0,1712.8 L1877.0,1712.4 L1880.0,1712.8 L1883.0,1713.2 L1886.0,1713.6 L1889.0,1712.9 L1892.0,1713.5 L1895.0,1713.8 L1898.0,1713.5 L1901.0,1713.8 L1904.0,1714.0 L1907.0,1714.0 L1910.0,1713.7 L1913.0,1713.1 L1916.0,1713.0 L1919.0,1712.6 L1922.0,1711.6 L1925.0,1711.8 L1928.0,1711.5 L1931.0,1711.8 L1934.0,1712.4 L1937.0,1712.7 L1940.0,1713.0 L1943.0,1713.6 L1946.0,1714.4 L1949.0,1714.9 L1952.0,1714.7 L1955.0,1713.7 L1958.0,1713.7 L1961.0,1713.5 L1964.0,1713.4 L1967.0,1712.4 L1970.0,1712.5 L1973.0,1712.3 L1976.0,1711.9 L1979.0,1712.1 L1982.0,1713.0 L1985.0,1713.4 L1988.0,1714.4 L1991.0,1714.8 L1994.0,1715.0 L1997.0,1715.5 L2000.0,1716.9 L2003.0,1716.5 L2006.0,1717.3 L2009.0,1717.5 L2012.0,1717.5 L2015.0,1717.5 L2018.0,1717.3 L2021.0,1717.9 L2024.0,1717.5 L2027.0,1717.0 L2030.0,1716.8 L2033.0,1716.3 L2036.0,1715.7 L2039.0,1715.9 L2042.0,1715.0 L2045.0,1713.9 L2048.0,1713.8 L2051.0,1711.9 L2054.0,1711.5 L2057.0,1709.5 L2060.0,1707.5 L2063.0,1705.2 L2066.0,1702.5 L2069.0,1699.1 L2072.0,1696.2 L2075.0,1693.3 L2078.0,1690.4 L2081.0,1686.9 L2084.0,1683.3 L2087.0,1679.7 L2090.0,1676.4 L2093.0,1673.8 L2096.0,1671.2 L2099.0,1667.6 L2102.0,1666.1 L2105.0,1665.5 L2108.0,1665.0 L2111.0,1666.9 L2114.0,1668.1 L2117.0,1671.6 L2120.0,1675.5 L2123.0,1679.9 L2126.0,1683.8 L2129.0,1687.6 L2132.0,1691.9 L2135.0,1696.5 L2138.0,1699.3 L2141.0,1703.3 L2144.0,1705.5 L2147.0,1707.5 L2150.0,1709.7 L2153.0,1711.1 L2156.0,1711.7 L2159.0,1713.1 L2162.0,1713.6 L2165.0,1713.4 L2168.0,1713.8 L2171.0,1713.6 L2174.0,1713.7 L2177.0,1713.7 L2180.0,1713.9 L2183.0,1713.7" fill="none" stroke="#008000" stroke-width="6.5" stroke-linejoin="round" stroke-linecap="round"/>
<g style="mix-blend-mode:multiply"><line x1="320.8" y1="1096" x2="320.8" y2="1744" stroke="#ececec" stroke-width="13"/><line x1="320.8" y1="1096" x2="320.8" y2="1744" stroke="#767676" stroke-width="9"/><line x1="320.8" y1="1096" x2="320.8" y2="1744" stroke="#131313" stroke-width="3.2"/></g>
<g style="mix-blend-mode:multiply"><line x1="730" y1="1095" x2="730" y2="1744" stroke="#ececec" stroke-width="13"/><line x1="730" y1="1095" x2="730" y2="1744" stroke="#767676" stroke-width="9"/><line x1="730" y1="1095" x2="730" y2="1744" stroke="#131313" stroke-width="3.2"/></g>
<g style="mix-blend-mode:multiply"><line x1="1677.6" y1="306" x2="1677.6" y2="1744" stroke="#ececec" stroke-width="13"/><line x1="1677.6" y1="306" x2="1677.6" y2="1744" stroke="#767676" stroke-width="9"/><line x1="1677.6" y1="306" x2="1677.6" y2="1744" stroke="#131313" stroke-width="3.2"/></g>
<g style="mix-blend-mode:multiply"><line x1="2100.5" y1="1094" x2="2100.5" y2="1744" stroke="#ececec" stroke-width="13"/><line x1="2100.5" y1="1094" x2="2100.5" y2="1744" stroke="#767676" stroke-width="9"/><line x1="2100.5" y1="1094" x2="2100.5" y2="1744" stroke="#131313" stroke-width="3.2"/></g>
<line x1="207" y1="1744.5" x2="2186" y2="1744.5" stroke="#333" stroke-width="5"/>
<line x1="604.3" y1="1744" x2="604.3" y2="1773" stroke="#3a3a3a" stroke-width="5"/>
<line x1="999" y1="1744" x2="999" y2="1773" stroke="#3a3a3a" stroke-width="5"/>
<line x1="1392.5" y1="1744" x2="1392.5" y2="1773" stroke="#3a3a3a" stroke-width="5"/>
<line x1="1789.6" y1="1744" x2="1789.6" y2="1773" stroke="#3a3a3a" stroke-width="5"/>
<line x1="2183.5" y1="1742" x2="2183.5" y2="1773" stroke="#3a3a3a" stroke-width="5"/>
<line x1="407" y1="1744" x2="407" y2="1759" stroke="#3a3a3a" stroke-width="5"/>
<line x1="802" y1="1744" x2="802" y2="1759" stroke="#3a3a3a" stroke-width="5"/>
<line x1="1196" y1="1744" x2="1196" y2="1759" stroke="#3a3a3a" stroke-width="5"/>
<line x1="1590.7" y1="1744" x2="1590.7" y2="1759" stroke="#3a3a3a" stroke-width="5"/>
<line x1="1985" y1="1744" x2="1985" y2="1759" stroke="#3a3a3a" stroke-width="5"/>
<path d="M149.0,3412.5 L152.0,3411.6 L155.0,3411.1 L158.0,3410.7 L161.0,3410.5 L164.0,3409.7 L167.0,3409.3 L170.0,3408.6 L173.0,3408.4 L176.0,3407.8 L179.0,3407.9 L182.0,3407.2 L185.0,3408.1 L188.0,3408.3 L191.0,3409.1 L194.0,3409.9 L197.0,3410.7 L200.0,3411.3 L203.0,3410.8 L206.0,3411.1 L209.0,3410.5 L212.0,3409.7 L215.0,3409.3 L218.0,3408.6 L221.0,3407.7 L224.0,3407.7 L227.0,3406.8 L230.0,3407.7 L233.0,3407.1 L236.0,3407.8 L239.0,3407.9 L242.0,3407.2 L245.0,3408.6 L248.0,3408.8 L251.0,3409.9 L254.0,3410.5 L257.0,3411.2 L260.0,3412.3 L263.0,3413.4 L266.0,3413.8 L269.0,3414.2 L272.0,3415.1 L275.0,3415.9 L278.0,3416.7 L281.0,3416.5 L284.0,3416.1 L287.0,3416.1 L290.0,3415.4 L293.0,3415.0 L296.0,3415.3 L299.0,3414.1 L302.0,3414.2 L305.0,3413.4 L308.0,3412.9 L311.0,3412.3 L314.0,3411.5 L317.0,3411.1 L320.0,3410.4 L323.0,3409.6 L326.0,3408.9 L329.0,3409.2 L332.0,3410.3 L335.0,3411.5 L338.0,3411.8 L341.0,3412.0 L344.0,3411.0 L347.0,3410.0 L350.0,3408.6 L353.0,3408.3 L356.0,3408.0 L359.0,3407.6 L362.0,3408.2 L365.0,3407.5 L368.0,3407.8 L371.0,3408.5 L374.0,3409.4 L377.0,3409.4 L380.0,3410.1 L383.0,3410.8 L386.0,3411.2 L389.0,3411.0 L392.0,3411.4 L395.0,3411.9 L398.0,3411.9 L401.0,3411.7 L404.0,3411.4 L407.0,3411.5 L410.0,3412.3 L413.0,3411.7 L416.0,3412.3 L419.0,3411.6 L422.0,3411.6 L425.0,3412.2 L428.0,3411.5 L431.0,3411.3 L434.0,3411.7 L437.0,3411.5 L440.0,3411.6 L443.0,3411.3 L446.0,3410.9 L449.0,3411.6 L452.0,3411.5 L455.0,3411.4 L458.0,3412.7 L461.0,3413.1 L464.0,3414.6 L467.0,3415.5 L470.0,3416.2 L473.0,3416.6 L476.0,3416.5 L479.0,3416.0 L482.0,3415.3 L485.0,3415.2 L488.0,3415.5 L491.0,3414.9 L494.0,3415.0 L497.0,3414.5 L500.0,3414.4 L503.0,3413.2 L506.0,3412.4 L509.0,3412.2 L512.0,3411.7 L515.0,3411.0 L518.0,3409.6 L521.0,3409.7 L524.0,3409.8 L527.0,3409.6 L530.0,3409.3 L533.0,3409.2 L536.0,3409.7 L539.0,3410.6 L542.0,3411.6 L545.0,3412.6 L548.0,3413.3 L551.0,3413.7 L554.0,3414.4 L557.0,3414.4 L560.0,3414.8 L563.0,3414.4 L566.0,3414.7 L569.0,3415.3 L572.0,3415.1 L575.0,3415.4 L578.0,3415.9 L581.0,3416.2 L584.0,3415.1 L587.0,3414.2 L590.0,3413.4 L593.0,3412.2 L596.0,3411.0 L599.0,3410.7 L602.0,3409.3 L605.0,3408.7 L608.0,3407.7 L611.0,3408.4 L614.0,3411.0 L617.0,3411.9 L620.0,3413.9 L623.0,3415.8 L626.0,3416.4 L629.0,3416.2 L632.0,3416.7 L635.0,3416.1 L638.0,3416.6 L641.0,3417.2 L644.0,3416.0 L647.0,3414.7 L650.0,3413.4 L653.0,3411.2 L656.0,3409.9 L659.0,3408.9 L662.0,3408.8 L665.0,3410.3 L668.0,3410.6 L671.0,3411.8 L674.0,3412.9 L677.0,3414.1 L680.0,3414.5 L683.0,3414.1 L686.0,3413.0 L689.0,3411.3 L692.0,3409.9 L695.0,3409.4 L698.0,3409.2 L701.0,3410.0 L704.0,3411.4 L707.0,3412.6 L710.0,3414.3 L713.0,3415.8 L716.0,3415.1 L719.0,3414.4 L722.0,3413.3 L725.0,3412.5 L728.0,3411.0 L731.0,3409.9 L734.0,3409.0 L737.0,3408.0 L740.0,3408.2 L743.0,3408.1 L746.0,3408.2 L749.0,3408.0 L752.0,3408.1 L755.0,3409.1 L758.0,3410.9 L761.0,3413.4 L764.0,3415.1 L767.0,3414.6 L770.0,3414.7 L773.0,3413.9 L776.0,3413.1 L779.0,3413.4 L782.0,3412.2 L785.0,3412.1 L788.0,3411.8 L791.0,3411.1 L794.0,3410.3 L797.0,3410.2 L800.0,3410.2 L803.0,3410.4 L806.0,3409.5 L809.0,3409.9 L812.0,3409.6 L815.0,3410.4 L818.0,3410.1 L821.0,3409.8 L824.0,3410.1 L827.0,3409.9 L830.0,3410.5 L833.0,3410.1 L836.0,3409.8 L839.0,3410.5 L842.0,3410.2 L845.0,3410.4 L848.0,3410.7 L851.0,3411.2 L854.0,3411.3 L857.0,3411.0 L860.0,3411.6 L863.0,3412.8 L866.0,3414.1 L869.0,3415.7 L872.0,3416.4 L875.0,3418.5 L878.0,3418.0 L881.0,3417.8 L884.0,3417.2 L887.0,3416.4 L890.0,3415.7 L893.0,3414.3 L896.0,3414.0 L899.0,3413.2 L902.0,3412.6 L905.0,3412.6 L908.0,3412.0 L911.0,3412.3 L914.0,3411.8 L917.0,3411.7 L920.0,3411.6 L923.0,3411.8 L926.0,3412.1 L929.0,3412.5 L932.0,3413.5 L935.0,3414.5 L938.0,3415.2 L941.0,3416.2 L944.0,3417.1 L947.0,3417.5 L950.0,3416.3 L953.0,3414.6 L956.0,3413.7 L959.0,3412.7 L962.0,3411.9 L965.0,3410.7 L968.0,3410.1 L971.0,3410.5 L974.0,3410.7 L977.0,3410.7 L980.0,3411.4 L983.0,3411.2 L986.0,3410.8 L989.0,3411.8 L992.0,3411.0 L995.0,3412.0 L998.0,3412.3 L1001.0,3413.5 L1004.0,3415.2 L1007.0,3415.8 L1010.0,3417.0 L1013.0,3415.7 L1016.0,3414.9 L1019.0,3414.5 L1022.0,3413.6 L1025.0,3412.9 L1028.0,3411.9 L1031.0,3411.9 L1034.0,3410.7 L1037.0,3410.8 L1040.0,3410.5 L1043.0,3411.0 L1046.0,3411.1 L1049.0,3410.8 L1052.0,3411.1 L1055.0,3411.8 L1058.0,3412.0 L1061.0,3411.5 L1064.0,3411.6 L1067.0,3412.7 L1070.0,3412.5 L1073.0,3412.2 L1076.0,3412.5 L1079.0,3412.8 L1082.0,3413.7 L1085.0,3414.6 L1088.0,3414.7 L1091.0,3416.1 L1094.0,3416.9 L1097.0,3417.8 L1100.0,3418.2 L1103.0,3418.4 L1106.0,3417.1 L1109.0,3417.2 L1112.0,3416.2 L1115.0,3415.9 L1118.0,3415.5 L1121.0,3414.8 L1124.0,3414.3 L1127.0,3414.2 L1130.0,3413.7 L1133.0,3412.7 L1136.0,3412.3 L1139.0,3412.0 L1142.0,3411.1 L1145.0,3410.9 L1148.0,3412.6 L1151.0,3413.8 L1154.0,3415.3 L1157.0,3416.7 L1160.0,3417.1 L1163.0,3416.4 L1166.0,3415.9 L1169.0,3414.7 L1172.0,3414.4 L1175.0,3412.8 L1178.0,3412.8 L1181.0,3411.1 L1184.0,3411.0 L1187.0,3411.9 L1190.0,3413.5 L1193.0,3413.7 L1196.0,3414.6 L1199.0,3415.0 L1202.0,3414.4 L1205.0,3414.1 L1208.0,3413.6 L1211.0,3412.3 L1214.0,3411.9 L1217.0,3411.0 L1220.0,3411.1 L1223.0,3410.1 L1226.0,3410.3 L1229.0,3410.9 L1232.0,3411.4 L1235.0,3412.1 L1238.0,3412.7 L1241.0,3414.2 L1244.0,3414.6 L1247.0,3415.5 L1250.0,3416.0 L1253.0,3416.5 L1256.0,3415.1 L1259.0,3415.1 L1262.0,3414.6 L1265.0,3413.2 L1268.0,3413.1 L1271.0,3412.7 L1274.0,3411.5 L1277.0,3411.3 L1280.0,3409.6 L1283.0,3409.3 L1286.0,3408.6 L1289.0,3408.9 L1292.0,3409.3 L1295.0,3409.2 L1298.0,3409.7 L1301.0,3410.0 L1304.0,3409.6 L1307.0,3410.2 L1310.0,3410.2 L1313.0,3410.6 L1316.0,3410.2 L1319.0,3411.0 L1322.0,3410.7 L1325.0,3410.4 L1328.0,3410.7 L1331.0,3410.6 L1334.0,3411.0 L1337.0,3411.1 L1340.0,3411.3 L1343.0,3411.9 L1346.0,3412.2 L1349.0,3412.4 L1352.0,3413.4 L1355.0,3413.5 L1358.0,3413.7 L1361.0,3414.1 L1364.0,3414.3 L1367.0,3413.3 L1370.0,3412.8 L1373.0,3411.7 L1376.0,3411.2 L1379.0,3411.0 L1382.0,3410.7 L1385.0,3410.3 L1388.0,3409.8 L1391.0,3409.8 L1394.0,3409.5 L1397.0,3409.6 L1400.0,3409.8 L1403.0,3410.5 L1406.0,3411.4 L1409.0,3412.2 L1412.0,3413.3 L1415.0,3414.7 L1418.0,3414.6 L1421.0,3414.9 L1424.0,3415.0 L1427.0,3414.8 L1430.0,3415.1 L1433.0,3415.3 L1436.0,3415.4 L1439.0,3414.9 L1442.0,3415.6 L1445.0,3415.8 L1448.0,3416.4 L1451.0,3417.5 L1454.0,3417.4 L1457.0,3417.5 L1460.0,3415.6 L1463.0,3413.8 L1466.0,3412.4 L1469.0,3411.0 L1472.0,3409.5 L1475.0,3411.1 L1478.0,3412.0 L1481.0,3412.8 L1484.0,3413.3 L1487.0,3413.7 L1490.0,3413.3 L1493.0,3412.5 L1496.0,3412.2 L1499.0,3411.9 L1502.0,3412.4 L1505.0,3412.6 L1508.0,3413.6 L1511.0,3413.9 L1514.0,3414.9 L1517.0,3414.5 L1520.0,3414.6 L1523.0,3413.7 L1526.0,3414.0 L1529.0,3413.8 L1532.0,3413.6 L1535.0,3414.2 L1538.0,3415.5 L1541.0,3416.4 L1544.0,3416.7 L1547.0,3417.8 L1550.0,3417.7 L1553.0,3418.9 L1556.0,3419.2 L1559.0,3419.1 L1562.0,3418.4 L1565.0,3418.0 L1568.0,3417.2 L1571.0,3416.9 L1574.0,3416.4 L1577.0,3416.5 L1580.0,3415.8 L1583.0,3414.7 L1586.0,3413.5 L1589.0,3412.9 L1592.0,3412.5 L1595.0,3411.2 L1598.0,3410.2 L1601.0,3409.4 L1604.0,3408.1 L1607.0,3406.6 L1610.0,3404.9 L1613.0,3402.3 L1616.0,3398.6 L1619.0,3391.2 L1622.0,3381.1 L1625.0,3367.2 L1628.0,3348.0 L1631.0,3323.3 L1634.0,3292.0 L1637.0,3254.2 L1640.0,3210.6 L1643.0,3162.1 L1646.0,3109.8 L1649.0,3055.9 L1652.0,3002.3 L1655.0,2950.8 L1658.0,2904.0 L1661.0,2862.9 L1664.0,2829.5 L1667.0,2804.1 L1670.0,2786.8 L1673.0,2777.1 L1676.0,2773.1 L1678.0,2772.6 L1679.0,2772.9 L1682.0,2775.7 L1685.0,2784.0 L1688.0,2798.8 L1691.0,2821.8 L1694.0,2852.7 L1697.0,2891.0 L1700.0,2935.9 L1703.0,2985.9 L1706.0,3039.0 L1709.0,3092.9 L1712.0,3145.7 L1715.0,3195.6 L1718.0,3240.9 L1721.0,3280.2 L1724.0,3313.5 L1727.0,3340.3 L1730.0,3361.3 L1733.0,3377.8 L1736.0,3389.1 L1739.0,3398.8 L1742.0,3404.8 L1745.0,3409.6 L1748.0,3413.4 L1751.0,3416.5 L1754.0,3417.7 L1757.0,3419.7 L1760.0,3419.8 L1763.0,3419.5 L1766.0,3419.8 L1769.0,3420.1 L1772.0,3420.1 L1775.0,3420.4 L1778.0,3420.2 L1781.0,3419.8 L1784.0,3420.2 L1787.0,3420.1 L1790.0,3420.2 L1793.0,3419.4 L1796.0,3419.8 L1799.0,3419.5 L1802.0,3420.1 L1805.0,3419.8 L1808.0,3419.4 L1811.0,3418.5 L1814.0,3418.2 L1817.0,3417.7 L1820.0,3416.7 L1823.0,3416.5 L1826.0,3415.8 L1829.0,3415.4 L1832.0,3414.4 L1835.0,3414.6 L1838.0,3415.2 L1841.0,3416.0 L1844.0,3417.2 L1847.0,3417.1 L1850.0,3417.9 L1853.0,3418.5 L1856.0,3418.9 L1859.0,3418.9 L1862.0,3417.9 L1865.0,3418.1 L1868.0,3417.0 L1871.0,3417.0 L1874.0,3416.1 L1877.0,3415.5 L1880.0,3414.9 L1883.0,3415.3 L1886.0,3416.2 L1889.0,3416.5 L1892.0,3416.8 L1895.0,3417.6 L1898.0,3418.3 L1901.0,3418.9 L1904.0,3419.5 L1907.0,3419.6 L1910.0,3418.9 L1913.0,3419.1 L1916.0,3418.2 L1919.0,3418.3 L1922.0,3418.0 L1925.0,3417.5 L1928.0,3417.5 L1931.0,3417.3 L1934.0,3417.3 L1937.0,3417.5 L1940.0,3417.4 L1943.0,3417.0 L1946.0,3416.8 L1949.0,3415.8 L1952.0,3415.1 L1955.0,3415.2 L1958.0,3414.6 L1961.0,3413.1 L1964.0,3413.2 L1967.0,3412.8 L1970.0,3414.8 L1973.0,3415.2 L1976.0,3417.0 L1979.0,3418.0 L1982.0,3418.9 L1985.0,3420.1 L1988.0,3420.5 L1991.0,3420.6 L1994.0,3420.7 L1997.0,3419.7 L2000.0,3419.4 L2003.0,3419.4 L2006.0,3419.1 L2009.0,3418.6 L2012.0,3418.5 L2015.0,3417.5 L2018.0,3418.1 L2021.0,3417.2 L2024.0,3417.3 L2027.0,3417.3 L2030.0,3417.1 L2033.0,3415.9 L2036.0,3415.7 L2039.0,3414.9 L2042.0,3413.5 L2045.0,3412.3 L2048.0,3411.0 L2051.0,3410.2 L2054.0,3408.9 L2057.0,3407.2 L2060.0,3405.2 L2063.0,3402.8 L2066.0,3401.1 L2069.0,3398.0 L2072.0,3395.6 L2075.0,3393.3 L2078.0,3390.5 L2081.0,3387.6 L2084.0,3383.8 L2087.0,3379.4 L2090.0,3373.9 L2093.0,3366.4 L2096.0,3357.8 L2099.0,3348.1 L2102.0,3337.3 L2105.0,3325.6 L2108.0,3313.9 L2111.0,3303.4 L2114.0,3295.6 L2117.0,3290.0 L2120.0,3289.5 L2123.0,3293.1 L2126.0,3300.1 L2129.0,3310.4 L2132.0,3323.2 L2135.0,3336.6 L2138.0,3349.4 L2141.0,3360.4 L2144.0,3370.4 L2147.0,3378.1 L2150.0,3384.0 L2153.0,3387.9 L2156.0,3389.2 L2159.0,3389.9 L2162.0,3390.3 L2165.0,3390.9 L2168.0,3391.1 L2171.0,3391.8 L2174.0,3393.6 L2177.0,3395.5 L2180.0,3397.6 L2183.0,3399.1 L2186.0,3401.5 L2189.0,3403.1 L2192.0,3405.0 L2195.0,3405.6 L2198.0,3406.0 L2201.0,3406.4 L2204.0,3406.3 L2206.0,3406.1" fill="none" stroke="#ff0000" stroke-width="7.5" stroke-linejoin="round" stroke-linecap="round"/>
<path d="M149.0,3538.1 L152.0,3536.5 L155.0,3535.2 L158.0,3534.5 L161.0,3535.2 L164.0,3536.3 L167.0,3536.4 L170.0,3536.6 L173.0,3537.0 L176.0,3537.8 L179.0,3538.3 L182.0,3539.3 L185.0,3539.4 L188.0,3540.4 L191.0,3541.0 L194.0,3541.0 L197.0,3541.4 L200.0,3541.3 L203.0,3541.5 L206.0,3541.5 L209.0,3540.9 L212.0,3540.2 L215.0,3540.4 L218.0,3540.1 L221.0,3539.4 L224.0,3539.2 L227.0,3538.9 L230.0,3538.1 L233.0,3537.6 L236.0,3536.9 L239.0,3536.3 L242.0,3535.3 L245.0,3534.9 L248.0,3535.1 L251.0,3534.9 L254.0,3534.7 L257.0,3535.3 L260.0,3535.2 L263.0,3534.9 L266.0,3534.7 L269.0,3534.3 L272.0,3534.4 L275.0,3534.0 L278.0,3533.7 L281.0,3533.8 L284.0,3533.3 L287.0,3533.2 L290.0,3532.8 L293.0,3533.0 L296.0,3532.8 L299.0,3532.5 L302.0,3533.2 L305.0,3533.0 L308.0,3532.5 L311.0,3533.1 L314.0,3533.2 L317.0,3532.8 L320.0,3533.8 L323.0,3534.3 L326.0,3533.9 L329.0,3534.7 L332.0,3535.1 L335.0,3534.7 L338.0,3536.3 L341.0,3536.7 L344.0,3537.7 L347.0,3538.4 L350.0,3539.3 L353.0,3539.6 L356.0,3537.9 L359.0,3535.4 L362.0,3532.9 L365.0,3532.3 L368.0,3532.8 L371.0,3533.3 L374.0,3533.6 L377.0,3533.8 L380.0,3534.5 L383.0,3534.9 L386.0,3535.5 L389.0,3536.3 L392.0,3537.3 L395.0,3538.6 L398.0,3539.5 L401.0,3540.9 L404.0,3540.5 L407.0,3540.3 L410.0,3538.9 L413.0,3538.0 L416.0,3536.8 L419.0,3536.1 L422.0,3535.8 L425.0,3534.8 L428.0,3533.2 L431.0,3532.9 L434.0,3533.5 L437.0,3533.2 L440.0,3533.2 L443.0,3533.1 L446.0,3533.2 L449.0,3533.4 L452.0,3534.2 L455.0,3535.1 L458.0,3536.3 L461.0,3536.9 L464.0,3538.2 L467.0,3538.3 L470.0,3537.8 L473.0,3538.7 L476.0,3538.3 L479.0,3538.9 L482.0,3537.7 L485.0,3536.1 L488.0,3534.6 L491.0,3533.7 L494.0,3534.3 L497.0,3534.7 L500.0,3535.0 L503.0,3535.1 L506.0,3535.6 L509.0,3535.6 L512.0,3535.7 L515.0,3536.4 L518.0,3536.1 L521.0,3536.7 L524.0,3536.8 L527.0,3536.9 L530.0,3537.8 L533.0,3537.4 L536.0,3537.1 L539.0,3536.6 L542.0,3536.5 L545.0,3536.8 L548.0,3535.8 L551.0,3536.1 L554.0,3536.0 L557.0,3537.2 L560.0,3538.2 L563.0,3538.2 L566.0,3538.5 L569.0,3539.1 L572.0,3539.0 L575.0,3539.8 L578.0,3540.1 L581.0,3540.0 L584.0,3540.0 L587.0,3541.0 L590.0,3541.0 L593.0,3540.6 L596.0,3540.1 L599.0,3538.8 L602.0,3537.8 L605.0,3537.1 L608.0,3536.4 L611.0,3536.0 L614.0,3535.2 L617.0,3536.0 L620.0,3536.5 L623.0,3537.5 L626.0,3537.2 L629.0,3537.9 L632.0,3538.3 L635.0,3537.5 L638.0,3536.8 L641.0,3536.2 L644.0,3535.1 L647.0,3534.5 L650.0,3534.4 L653.0,3533.1 L656.0,3533.8 L659.0,3534.5 L662.0,3534.8 L665.0,3535.1 L668.0,3535.6 L671.0,3536.3 L674.0,3536.5 L677.0,3537.4 L680.0,3538.6 L683.0,3538.3 L686.0,3539.7 L689.0,3539.7 L692.0,3538.0 L695.0,3537.6 L698.0,3536.5 L701.0,3535.0 L704.0,3533.7 L707.0,3532.2 L710.0,3533.0 L713.0,3533.3 L716.0,3533.4 L719.0,3534.2 L722.0,3534.7 L725.0,3534.8 L728.0,3535.1 L731.0,3535.7 L734.0,3535.4 L737.0,3535.4 L740.0,3535.4 L743.0,3535.0 L746.0,3534.9 L749.0,3534.5 L752.0,3534.2 L755.0,3533.9 L758.0,3534.0 L761.0,3534.6 L764.0,3535.2 L767.0,3535.5 L770.0,3535.4 L773.0,3534.8 L776.0,3534.2 L779.0,3534.5 L782.0,3533.6 L785.0,3534.0 L788.0,3533.2 L791.0,3532.8 L794.0,3532.0 L797.0,3532.4 L800.0,3532.4 L803.0,3532.3 L806.0,3532.8 L809.0,3533.3 L812.0,3533.1 L815.0,3533.3 L818.0,3532.5 L821.0,3532.2 L824.0,3532.1 L827.0,3532.7 L830.0,3532.5 L833.0,3532.1 L836.0,3531.3 L839.0,3531.3 L842.0,3532.2 L845.0,3532.7 L848.0,3533.5 L851.0,3534.1 L854.0,3533.8 L857.0,3533.7 L860.0,3533.5 L863.0,3533.2 L866.0,3532.0 L869.0,3532.3 L872.0,3531.1 L875.0,3530.5 L878.0,3531.2 L881.0,3530.7 L884.0,3531.0 L887.0,3531.1 L890.0,3531.2 L893.0,3531.9 L896.0,3532.1 L899.0,3532.7 L902.0,3533.4 L905.0,3533.7 L908.0,3533.4 L911.0,3533.6 L914.0,3533.4 L917.0,3533.5 L920.0,3533.8 L923.0,3533.6 L926.0,3533.9 L929.0,3533.0 L932.0,3533.3 L935.0,3533.2 L938.0,3533.3 L941.0,3533.0 L944.0,3532.3 L947.0,3532.0 L950.0,3531.0 L953.0,3530.6 L956.0,3530.3 L959.0,3530.6 L962.0,3529.7 L965.0,3529.6 L968.0,3529.6 L971.0,3530.0 L974.0,3530.7 L977.0,3530.3 L980.0,3531.2 L983.0,3530.7 L986.0,3531.5 L989.0,3531.5 L992.0,3532.1 L995.0,3533.0 L998.0,3533.3 L1001.0,3534.1 L1004.0,3535.1 L1007.0,3534.9 L1010.0,3534.2 L1013.0,3533.2 L1016.0,3532.5 L1019.0,3531.9 L1022.0,3530.6 L1025.0,3530.1 L1028.0,3529.5 L1031.0,3528.3 L1034.0,3529.7 L1037.0,3530.6 L1040.0,3532.4 L1043.0,3533.3 L1046.0,3535.3 L1049.0,3535.0 L1052.0,3534.2 L1055.0,3533.9 L1058.0,3532.3 L1061.0,3531.5 L1064.0,3530.9 L1067.0,3530.7 L1070.0,3530.0 L1073.0,3529.4 L1076.0,3528.8 L1079.0,3530.9 L1082.0,3532.1 L1085.0,3532.9 L1088.0,3534.0 L1091.0,3535.3 L1094.0,3537.3 L1097.0,3537.7 L1100.0,3537.5 L1103.0,3536.9 L1106.0,3536.7 L1109.0,3536.6 L1112.0,3535.6 L1115.0,3535.4 L1118.0,3535.1 L1121.0,3534.3 L1124.0,3533.9 L1127.0,3533.4 L1130.0,3532.6 L1133.0,3532.7 L1136.0,3532.3 L1139.0,3532.8 L1142.0,3532.9 L1145.0,3534.2 L1148.0,3534.7 L1151.0,3535.2 L1154.0,3535.8 L1157.0,3536.5 L1160.0,3536.8 L1163.0,3536.6 L1166.0,3536.2 L1169.0,3534.6 L1172.0,3533.8 L1175.0,3533.6 L1178.0,3532.3 L1181.0,3532.0 L1184.0,3531.8 L1187.0,3532.1 L1190.0,3532.7 L1193.0,3532.5 L1196.0,3533.4 L1199.0,3533.5 L1202.0,3534.3 L1205.0,3533.4 L1208.0,3533.7 L1211.0,3533.0 L1214.0,3532.6 L1217.0,3532.5 L1220.0,3532.7 L1223.0,3531.9 L1226.0,3532.7 L1229.0,3532.8 L1232.0,3534.0 L1235.0,3534.3 L1238.0,3535.5 L1241.0,3535.9 L1244.0,3536.6 L1247.0,3536.8 L1250.0,3538.0 L1253.0,3538.0 L1256.0,3536.6 L1259.0,3535.5 L1262.0,3534.0 L1265.0,3533.1 L1268.0,3532.7 L1271.0,3532.6 L1274.0,3532.7 L1277.0,3532.6 L1280.0,3532.7 L1283.0,3532.7 L1286.0,3532.3 L1289.0,3532.7 L1292.0,3532.4 L1295.0,3532.9 L1298.0,3533.8 L1301.0,3533.7 L1304.0,3533.6 L1307.0,3533.8 L1310.0,3534.1 L1313.0,3534.9 L1316.0,3534.5 L1319.0,3535.6 L1322.0,3535.6 L1325.0,3535.3 L1328.0,3535.5 L1331.0,3536.1 L1334.0,3536.7 L1337.0,3536.9 L1340.0,3536.5 L1343.0,3535.8 L1346.0,3535.4 L1349.0,3534.3 L1352.0,3534.2 L1355.0,3532.6 L1358.0,3533.2 L1361.0,3534.5 L1364.0,3535.2 L1367.0,3535.3 L1370.0,3536.7 L1373.0,3536.0 L1376.0,3535.9 L1379.0,3535.1 L1382.0,3534.0 L1385.0,3533.6 L1388.0,3533.0 L1391.0,3532.2 L1394.0,3531.8 L1397.0,3531.6 L1400.0,3532.3 L1403.0,3532.7 L1406.0,3533.0 L1409.0,3532.7 L1412.0,3533.5 L1415.0,3533.7 L1418.0,3534.2 L1421.0,3534.3 L1424.0,3534.3 L1427.0,3533.8 L1430.0,3534.3 L1433.0,3534.6 L1436.0,3533.8 L1439.0,3534.1 L1442.0,3534.7 L1445.0,3534.2 L1448.0,3534.8 L1451.0,3534.8 L1454.0,3535.5 L1457.0,3534.7 L1460.0,3535.3 L1463.0,3535.8 L1466.0,3536.4 L1469.0,3536.5 L1472.0,3536.7 L1475.0,3537.9 L1478.0,3538.1 L1481.0,3537.9 L1484.0,3538.8 L1487.0,3538.3 L1490.0,3538.6 L1493.0,3538.1 L1496.0,3537.9 L1499.0,3537.9 L1502.0,3538.2 L1505.0,3537.4 L1508.0,3537.0 L1511.0,3537.3 L1514.0,3537.3 L1517.0,3536.7 L1520.0,3536.6 L1523.0,3536.5 L1526.0,3535.9 L1529.0,3535.6 L1532.0,3536.2 L1535.0,3536.2 L1538.0,3535.8 L1541.0,3536.2 L1544.0,3536.5 L1547.0,3536.7 L1550.0,3537.3 L1553.0,3537.1 L1556.0,3537.3 L1559.0,3536.8 L1562.0,3536.3 L1565.0,3535.1 L1568.0,3534.4 L1571.0,3533.6 L1574.0,3533.6 L1577.0,3533.0 L1580.0,3533.1 L1583.0,3534.5 L1586.0,3534.7 L1589.0,3535.7 L1592.0,3535.4 L1595.0,3535.9 L1598.0,3534.8 L1601.0,3532.8 L1604.0,3531.5 L1607.0,3529.5 L1610.0,3525.9 L1613.0,3520.6 L1616.0,3513.9 L1619.0,3505.0 L1622.0,3490.3 L1625.0,3469.3 L1628.0,3439.6 L1631.0,3400.1 L1634.0,3349.0 L1637.0,3285.6 L1640.0,3210.9 L1643.0,3126.4 L1646.0,3034.2 L1649.0,2937.6 L1652.0,2840.6 L1655.0,2747.1 L1658.0,2661.4 L1661.0,2586.4 L1664.0,2525.4 L1667.0,2479.1 L1670.0,2447.9 L1673.0,2430.3 L1676.0,2424.0 L1677.5,2423.5 L1679.0,2423.9 L1682.0,2430.0 L1685.0,2447.3 L1688.0,2478.3 L1691.0,2524.3 L1694.0,2585.5 L1697.0,2660.0 L1700.0,2745.8 L1703.0,2839.0 L1706.0,2936.1 L1709.0,3032.5 L1712.0,3124.7 L1715.0,3209.3 L1718.0,3283.7 L1721.0,3346.4 L1724.0,3398.0 L1727.0,3438.3 L1730.0,3469.5 L1733.0,3492.7 L1736.0,3509.4 L1739.0,3519.9 L1742.0,3528.0 L1745.0,3531.9 L1748.0,3533.4 L1751.0,3534.1 L1754.0,3534.8 L1757.0,3534.5 L1760.0,3534.6 L1763.0,3533.4 L1766.0,3533.1 L1769.0,3533.1 L1772.0,3532.0 L1775.0,3532.1 L1778.0,3530.8 L1781.0,3531.0 L1784.0,3529.9 L1787.0,3529.5 L1790.0,3530.6 L1793.0,3532.0 L1796.0,3532.7 L1799.0,3533.4 L1802.0,3534.3 L1805.0,3535.3 L1808.0,3535.1 L1811.0,3534.1 L1814.0,3533.2 L1817.0,3533.4 L1820.0,3532.1 L1823.0,3531.5 L1826.0,3531.1 L1829.0,3531.6 L1832.0,3532.0 L1835.0,3531.8 L1838.0,3532.4 L1841.0,3532.6 L1844.0,3532.4 L1847.0,3532.1 L1850.0,3531.4 L1853.0,3530.8 L1856.0,3531.2 L1859.0,3530.2 L1862.0,3530.0 L1865.0,3530.4 L1868.0,3530.6 L1871.0,3530.4 L1874.0,3530.9 L1877.0,3531.1 L1880.0,3531.8 L1883.0,3532.1 L1886.0,3532.6 L1889.0,3533.5 L1892.0,3534.2 L1895.0,3534.4 L1898.0,3534.8 L1901.0,3535.0 L1904.0,3535.1 L1907.0,3535.7 L1910.0,3536.3 L1913.0,3536.4 L1916.0,3537.1 L1919.0,3537.1 L1922.0,3537.5 L1925.0,3536.0 L1928.0,3534.8 L1931.0,3533.2 L1934.0,3531.2 L1937.0,3530.4 L1940.0,3529.0 L1943.0,3529.7 L1946.0,3530.3 L1949.0,3531.3 L1952.0,3532.4 L1955.0,3532.7 L1958.0,3533.8 L1961.0,3534.2 L1964.0,3534.5 L1967.0,3535.3 L1970.0,3535.6 L1973.0,3535.9 L1976.0,3535.0 L1979.0,3534.4 L1982.0,3534.1 L1985.0,3533.8 L1988.0,3532.4 L1991.0,3533.5 L1994.0,3534.1 L1997.0,3535.5 L2000.0,3536.7 L2003.0,3537.9 L2006.0,3539.2 L2009.0,3537.9 L2012.0,3536.3 L2015.0,3534.7 L2018.0,3533.5 L2021.0,3533.0 L2024.0,3532.4 L2027.0,3532.2 L2030.0,3531.6 L2033.0,3531.5 L2036.0,3532.0 L2039.0,3531.2 L2042.0,3531.7 L2045.0,3531.1 L2048.0,3530.9 L2051.0,3531.6 L2054.0,3531.2 L2057.0,3532.0 L2060.0,3531.3 L2063.0,3531.5 L2066.0,3531.7 L2069.0,3530.2 L2072.0,3529.6 L2075.0,3527.5 L2078.0,3523.8 L2081.0,3517.6 L2084.0,3509.0 L2087.0,3498.0 L2090.0,3484.6 L2093.0,3468.1 L2096.0,3448.4 L2099.0,3426.3 L2102.0,3403.0 L2105.0,3379.7 L2108.0,3358.0 L2111.0,3339.1 L2114.0,3324.9 L2117.0,3316.3 L2119.0,3314.2 L2120.0,3314.4 L2123.0,3318.9 L2126.0,3329.5 L2129.0,3345.1 L2132.0,3364.4 L2135.0,3385.6 L2138.0,3406.8 L2141.0,3427.2 L2144.0,3445.6 L2147.0,3461.4 L2150.0,3474.3 L2153.0,3484.8 L2156.0,3492.5 L2159.0,3498.1 L2162.0,3503.0 L2165.0,3506.5 L2168.0,3508.2 L2171.0,3507.8 L2174.0,3508.3 L2177.0,3508.0 L2180.0,3508.1 L2183.0,3507.1 L2186.0,3506.6 L2189.0,3506.1 L2192.0,3506.2 L2195.0,3507.2 L2198.0,3508.2 L2201.0,3509.3 L2204.0,3509.5 L2206.0,3510.5" fill="none" stroke="#0000ff" stroke-width="7.5" stroke-linejoin="round" stroke-linecap="round"/>
<path d="M149.0,3669.5 L152.0,3668.7 L155.0,3668.1 L158.0,3667.5 L161.0,3667.0 L164.0,3666.3 L167.0,3665.6 L170.0,3664.6 L173.0,3665.4 L176.0,3664.4 L179.0,3664.5 L182.0,3664.4 L185.0,3665.1 L188.0,3665.7 L191.0,3667.2 L194.0,3668.2 L197.0,3669.2 L200.0,3669.8 L203.0,3669.9 L206.0,3668.9 L209.0,3669.2 L212.0,3668.2 L215.0,3668.3 L218.0,3667.7 L221.0,3666.7 L224.0,3666.7 L227.0,3666.1 L230.0,3667.0 L233.0,3668.4 L236.0,3668.8 L239.0,3669.9 L242.0,3670.2 L245.0,3671.7 L248.0,3670.6 L251.0,3669.1 L254.0,3668.3 L257.0,3667.5 L260.0,3665.8 L263.0,3665.1 L266.0,3663.8 L269.0,3663.9 L272.0,3664.1 L275.0,3664.5 L278.0,3664.5 L281.0,3664.6 L284.0,3665.3 L287.0,3666.0 L290.0,3666.3 L293.0,3667.1 L296.0,3667.7 L299.0,3668.5 L302.0,3669.6 L305.0,3669.6 L308.0,3670.8 L311.0,3670.6 L314.0,3670.6 L317.0,3670.2 L320.0,3670.2 L323.0,3670.9 L326.0,3670.3 L329.0,3670.9 L332.0,3670.2 L335.0,3670.2 L338.0,3670.8 L341.0,3670.6 L344.0,3671.0 L347.0,3670.8 L350.0,3670.7 L353.0,3671.2 L356.0,3671.7 L359.0,3670.3 L362.0,3670.1 L365.0,3669.1 L368.0,3668.5 L371.0,3666.9 L374.0,3666.3 L377.0,3665.2 L380.0,3664.8 L383.0,3664.6 L386.0,3665.0 L389.0,3665.2 L392.0,3664.9 L395.0,3665.7 L398.0,3665.5 L401.0,3665.9 L404.0,3666.8 L407.0,3666.9 L410.0,3666.9 L413.0,3666.3 L416.0,3667.1 L419.0,3666.6 L422.0,3666.9 L425.0,3667.1 L428.0,3666.5 L431.0,3667.1 L434.0,3666.5 L437.0,3666.6 L440.0,3665.5 L443.0,3665.2 L446.0,3664.8 L449.0,3664.8 L452.0,3665.1 L455.0,3664.9 L458.0,3665.0 L461.0,3664.6 L464.0,3664.6 L467.0,3664.6 L470.0,3665.5 L473.0,3667.1 L476.0,3667.7 L479.0,3669.1 L482.0,3669.3 L485.0,3669.1 L488.0,3669.3 L491.0,3669.2 L494.0,3669.4 L497.0,3670.2 L500.0,3670.4 L503.0,3670.5 L506.0,3669.8 L509.0,3669.4 L512.0,3668.8 L515.0,3668.3 L518.0,3667.7 L521.0,3666.7 L524.0,3666.3 L527.0,3666.4 L530.0,3665.4 L533.0,3665.3 L536.0,3664.3 L539.0,3663.4 L542.0,3663.7 L545.0,3663.1 L548.0,3662.6 L551.0,3661.7 L554.0,3661.7 L557.0,3662.2 L560.0,3662.5 L563.0,3662.8 L566.0,3664.0 L569.0,3663.5 L572.0,3664.3 L575.0,3664.2 L578.0,3663.8 L581.0,3663.3 L584.0,3662.1 L587.0,3662.0 L590.0,3662.2 L593.0,3662.0 L596.0,3662.2 L599.0,3661.7 L602.0,3662.3 L605.0,3662.8 L608.0,3662.4 L611.0,3663.1 L614.0,3663.5 L617.0,3663.8 L620.0,3664.9 L623.0,3665.6 L626.0,3665.5 L629.0,3664.6 L632.0,3664.3 L635.0,3663.4 L638.0,3662.8 L641.0,3662.5 L644.0,3661.8 L647.0,3661.7 L650.0,3661.5 L653.0,3662.0 L656.0,3661.6 L659.0,3662.5 L662.0,3662.3 L665.0,3662.2 L668.0,3662.2 L671.0,3662.4 L674.0,3662.3 L677.0,3661.8 L680.0,3662.5 L683.0,3662.0 L686.0,3662.1 L689.0,3661.4 L692.0,3661.7 L695.0,3661.2 L698.0,3662.3 L701.0,3663.6 L704.0,3664.3 L707.0,3665.2 L710.0,3666.9 L713.0,3667.6 L716.0,3668.7 L719.0,3668.9 L722.0,3668.8 L725.0,3667.9 L728.0,3667.3 L731.0,3667.3 L734.0,3666.5 L737.0,3666.1 L740.0,3665.6 L743.0,3664.7 L746.0,3664.0 L749.0,3662.9 L752.0,3662.5 L755.0,3661.8 L758.0,3660.5 L761.0,3659.9 L764.0,3660.9 L767.0,3662.8 L770.0,3664.2 L773.0,3666.1 L776.0,3667.0 L779.0,3666.5 L782.0,3666.7 L785.0,3666.4 L788.0,3666.2 L791.0,3665.6 L794.0,3665.3 L797.0,3665.6 L800.0,3665.1 L803.0,3665.0 L806.0,3663.9 L809.0,3663.6 L812.0,3663.0 L815.0,3662.8 L818.0,3663.2 L821.0,3663.8 L824.0,3664.5 L827.0,3664.3 L830.0,3665.3 L833.0,3665.7 L836.0,3665.8 L839.0,3666.6 L842.0,3666.2 L845.0,3665.1 L848.0,3663.7 L851.0,3663.0 L854.0,3662.4 L857.0,3661.5 L860.0,3660.6 L863.0,3659.4 L866.0,3659.2 L869.0,3659.2 L872.0,3659.7 L875.0,3659.8 L878.0,3659.3 L881.0,3659.8 L884.0,3659.9 L887.0,3660.4 L890.0,3660.6 L893.0,3660.1 L896.0,3659.7 L899.0,3659.3 L902.0,3658.7 L905.0,3658.5 L908.0,3658.6 L911.0,3657.5 L914.0,3657.7 L917.0,3657.7 L920.0,3658.4 L923.0,3659.2 L926.0,3659.2 L929.0,3659.6 L932.0,3660.1 L935.0,3660.9 L938.0,3661.0 L941.0,3661.2 L944.0,3661.0 L947.0,3661.1 L950.0,3659.8 L953.0,3659.9 L956.0,3658.6 L959.0,3658.9 L962.0,3658.4 L965.0,3658.0 L968.0,3658.5 L971.0,3658.5 L974.0,3659.6 L977.0,3659.3 L980.0,3660.5 L983.0,3660.9 L986.0,3661.1 L989.0,3660.6 L992.0,3660.7 L995.0,3660.3 L998.0,3659.4 L1001.0,3658.9 L1004.0,3659.5 L1007.0,3658.7 L1010.0,3659.2 L1013.0,3659.1 L1016.0,3658.4 L1019.0,3658.7 L1022.0,3658.8 L1025.0,3658.4 L1028.0,3658.5 L1031.0,3658.2 L1034.0,3657.6 L1037.0,3657.7 L1040.0,3657.8 L1043.0,3657.2 L1046.0,3657.3 L1049.0,3656.8 L1052.0,3657.2 L1055.0,3657.0 L1058.0,3657.1 L1061.0,3656.6 L1064.0,3656.2 L1067.0,3656.3 L1070.0,3656.3 L1073.0,3656.6 L1076.0,3656.2 L1079.0,3656.5 L1082.0,3656.2 L1085.0,3656.9 L1088.0,3657.8 L1091.0,3658.3 L1094.0,3658.6 L1097.0,3659.3 L1100.0,3660.1 L1103.0,3660.8 L1106.0,3661.5 L1109.0,3660.7 L1112.0,3659.5 L1115.0,3658.7 L1118.0,3658.4 L1121.0,3657.6 L1124.0,3656.5 L1127.0,3656.9 L1130.0,3657.1 L1133.0,3657.4 L1136.0,3658.4 L1139.0,3658.7 L1142.0,3658.7 L1145.0,3659.0 L1148.0,3658.5 L1151.0,3657.1 L1154.0,3656.9 L1157.0,3656.1 L1160.0,3655.8 L1163.0,3655.8 L1166.0,3656.5 L1169.0,3656.0 L1172.0,3656.2 L1175.0,3656.5 L1178.0,3656.4 L1181.0,3657.2 L1184.0,3657.3 L1187.0,3656.8 L1190.0,3657.3 L1193.0,3658.0 L1196.0,3658.4 L1199.0,3658.7 L1202.0,3657.7 L1205.0,3658.0 L1208.0,3657.7 L1211.0,3656.9 L1214.0,3657.3 L1217.0,3656.7 L1220.0,3656.5 L1223.0,3656.8 L1226.0,3657.4 L1229.0,3657.5 L1232.0,3657.5 L1235.0,3658.3 L1238.0,3658.9 L1241.0,3659.1 L1244.0,3658.5 L1247.0,3658.4 L1250.0,3657.6 L1253.0,3657.4 L1256.0,3657.3 L1259.0,3656.3 L1262.0,3656.4 L1265.0,3656.1 L1268.0,3655.9 L1271.0,3657.3 L1274.0,3657.9 L1277.0,3659.1 L1280.0,3660.0 L1283.0,3660.3 L1286.0,3660.7 L1289.0,3660.5 L1292.0,3660.0 L1295.0,3660.5 L1298.0,3660.4 L1301.0,3660.7 L1304.0,3660.7 L1307.0,3660.6 L1310.0,3660.2 L1313.0,3659.9 L1316.0,3660.5 L1319.0,3660.8 L1322.0,3661.1 L1325.0,3661.1 L1328.0,3661.5 L1331.0,3660.4 L1334.0,3659.2 L1337.0,3657.7 L1340.0,3657.1 L1343.0,3656.2 L1346.0,3655.6 L1349.0,3656.3 L1352.0,3657.2 L1355.0,3659.1 L1358.0,3660.1 L1361.0,3661.4 L1364.0,3662.0 L1367.0,3662.4 L1370.0,3661.9 L1373.0,3660.8 L1376.0,3659.6 L1379.0,3658.6 L1382.0,3658.1 L1385.0,3657.4 L1388.0,3656.0 L1391.0,3657.4 L1394.0,3657.7 L1397.0,3658.1 L1400.0,3659.0 L1403.0,3660.2 L1406.0,3661.0 L1409.0,3661.6 L1412.0,3661.6 L1415.0,3662.0 L1418.0,3661.5 L1421.0,3660.9 L1424.0,3660.1 L1427.0,3659.8 L1430.0,3659.3 L1433.0,3658.5 L1436.0,3657.9 L1439.0,3657.6 L1442.0,3657.1 L1445.0,3656.5 L1448.0,3657.0 L1451.0,3657.1 L1454.0,3656.6 L1457.0,3656.5 L1460.0,3656.5 L1463.0,3656.6 L1466.0,3656.2 L1469.0,3655.2 L1472.0,3655.5 L1475.0,3655.2 L1478.0,3655.1 L1481.0,3654.6 L1484.0,3654.4 L1487.0,3655.0 L1490.0,3655.0 L1493.0,3654.8 L1496.0,3655.7 L1499.0,3655.5 L1502.0,3656.4 L1505.0,3657.2 L1508.0,3658.2 L1511.0,3658.8 L1514.0,3658.7 L1517.0,3659.8 L1520.0,3660.3 L1523.0,3660.5 L1526.0,3660.9 L1529.0,3661.3 L1532.0,3660.4 L1535.0,3659.8 L1538.0,3659.3 L1541.0,3658.3 L1544.0,3658.0 L1547.0,3657.5 L1550.0,3657.5 L1553.0,3657.1 L1556.0,3657.5 L1559.0,3656.8 L1562.0,3656.6 L1565.0,3656.3 L1568.0,3656.5 L1571.0,3656.5 L1574.0,3657.1 L1577.0,3656.4 L1580.0,3656.8 L1583.0,3658.0 L1586.0,3658.7 L1589.0,3659.1 L1592.0,3660.2 L1595.0,3659.8 L1598.0,3659.3 L1601.0,3659.3 L1604.0,3658.4 L1607.0,3656.2 L1610.0,3653.3 L1613.0,3648.9 L1616.0,3643.7 L1619.0,3638.8 L1622.0,3633.7 L1625.0,3629.2 L1628.0,3622.1 L1631.0,3613.6 L1634.0,3602.0 L1637.0,3587.2 L1640.0,3569.5 L1643.0,3548.2 L1646.0,3524.0 L1649.0,3497.0 L1652.0,3467.8 L1655.0,3437.7 L1658.0,3407.2 L1661.0,3377.8 L1664.0,3350.7 L1667.0,3327.1 L1670.0,3308.0 L1673.0,3294.3 L1676.0,3287.2 L1677.5,3286.2 L1679.0,3287.0 L1682.0,3293.6 L1685.0,3306.7 L1688.0,3325.6 L1691.0,3349.1 L1694.0,3376.3 L1697.0,3405.7 L1700.0,3436.3 L1703.0,3466.9 L1706.0,3496.3 L1709.0,3523.2 L1712.0,3548.1 L1715.0,3569.7 L1718.0,3587.7 L1721.0,3603.0 L1724.0,3615.5 L1727.0,3626.2 L1730.0,3633.9 L1733.0,3640.1 L1736.0,3644.2 L1739.0,3647.5 L1742.0,3650.9 L1745.0,3652.6 L1748.0,3653.9 L1751.0,3655.0 L1754.0,3654.8 L1757.0,3655.6 L1760.0,3656.6 L1763.0,3656.1 L1766.0,3657.2 L1769.0,3656.4 L1772.0,3655.2 L1775.0,3654.8 L1778.0,3653.3 L1781.0,3651.8 L1784.0,3653.0 L1787.0,3654.1 L1790.0,3655.5 L1793.0,3657.6 L1796.0,3658.6 L1799.0,3658.9 L1802.0,3658.1 L1805.0,3657.3 L1808.0,3656.2 L1811.0,3655.3 L1814.0,3655.1 L1817.0,3654.5 L1820.0,3654.2 L1823.0,3654.7 L1826.0,3654.4 L1829.0,3653.8 L1832.0,3653.9 L1835.0,3653.5 L1838.0,3653.3 L1841.0,3653.0 L1844.0,3652.7 L1847.0,3652.9 L1850.0,3652.8 L1853.0,3652.0 L1856.0,3652.6 L1859.0,3653.8 L1862.0,3654.1 L1865.0,3654.2 L1868.0,3655.0 L1871.0,3655.3 L1874.0,3656.5 L1877.0,3656.4 L1880.0,3656.2 L1883.0,3656.6 L1886.0,3656.0 L1889.0,3656.4 L1892.0,3655.9 L1895.0,3656.2 L1898.0,3655.7 L1901.0,3655.7 L1904.0,3655.4 L1907.0,3655.1 L1910.0,3655.2 L1913.0,3655.4 L1916.0,3655.1 L1919.0,3654.7 L1922.0,3654.7 L1925.0,3654.7 L1928.0,3654.8 L1931.0,3654.8 L1934.0,3655.1 L1937.0,3655.3 L1940.0,3655.3 L1943.0,3655.5 L1946.0,3656.4 L1949.0,3656.7 L1952.0,3656.3 L1955.0,3656.9 L1958.0,3657.4 L1961.0,3657.7 L1964.0,3658.1 L1967.0,3658.8 L1970.0,3658.5 L1973.0,3659.1 L1976.0,3658.9 L1979.0,3657.1 L1982.0,3655.4 L1985.0,3654.0 L1988.0,3652.0 L1991.0,3652.7 L1994.0,3653.9 L1997.0,3654.2 L2000.0,3655.1 L2003.0,3656.2 L2006.0,3657.1 L2009.0,3657.8 L2012.0,3657.0 L2015.0,3656.3 L2018.0,3655.6 L2021.0,3655.2 L2024.0,3654.6 L2027.0,3653.3 L2030.0,3653.0 L2033.0,3653.3 L2036.0,3652.7 L2039.0,3653.3 L2042.0,3653.1 L2045.0,3652.8 L2048.0,3652.9 L2051.0,3653.4 L2054.0,3653.2 L2057.0,3652.9 L2060.0,3651.5 L2063.0,3651.2 L2066.0,3650.0 L2069.0,3649.4 L2072.0,3650.2 L2075.0,3651.2 L2078.0,3651.1 L2081.0,3649.0 L2084.0,3646.2 L2087.0,3642.6 L2090.0,3637.3 L2093.0,3631.5 L2096.0,3625.6 L2099.0,3618.8 L2102.0,3612.3 L2105.0,3605.7 L2108.0,3599.9 L2111.0,3595.2 L2114.0,3592.8 L2117.0,3591.0 L2120.0,3591.1 L2123.0,3592.7 L2126.0,3596.6 L2129.0,3600.6 L2132.0,3606.3 L2135.0,3612.9 L2138.0,3619.2 L2141.0,3625.5 L2144.0,3631.4 L2147.0,3636.4 L2150.0,3642.2 L2153.0,3646.1 L2156.0,3649.8 L2159.0,3652.0 L2162.0,3654.2 L2165.0,3655.3 L2168.0,3655.5 L2171.0,3655.6 L2174.0,3654.7 L2177.0,3655.1 L2180.0,3654.0 L2183.0,3653.8 L2186.0,3652.7 L2189.0,3652.1 L2192.0,3652.5 L2195.0,3652.4 L2198.0,3651.2 L2201.0,3651.6 L2204.0,3651.7 L2206.0,3651.5" fill="none" stroke="#ff00ff" stroke-width="7.5" stroke-linejoin="round" stroke-linecap="round"/>
<path d="M149.0,3793.3 L152.0,3792.7 L155.0,3792.1 L158.0,3792.1 L161.0,3792.3 L164.0,3791.5 L167.0,3791.0 L170.0,3790.6 L173.0,3790.8 L176.0,3792.1 L179.0,3792.9 L182.0,3793.2 L185.0,3794.7 L188.0,3794.4 L191.0,3793.4 L194.0,3791.8 L197.0,3791.1 L200.0,3788.9 L203.0,3787.0 L206.0,3785.2 L209.0,3782.3 L212.0,3781.0 L215.0,3778.0 L218.0,3776.1 L221.0,3774.5 L224.0,3772.2 L227.0,3770.3 L230.0,3767.6 L233.0,3765.3 L236.0,3760.4 L239.0,3754.2 L242.0,3745.2 L245.0,3735.5 L248.0,3723.8 L251.0,3711.5 L254.0,3700.6 L257.0,3693.3 L260.0,3689.8 L263.0,3691.2 L266.0,3697.9 L269.0,3708.2 L272.0,3719.9 L275.0,3732.1 L278.0,3743.8 L281.0,3755.2 L284.0,3765.5 L287.0,3772.5 L290.0,3779.0 L293.0,3784.0 L296.0,3787.5 L299.0,3789.9 L302.0,3791.0 L305.0,3792.0 L308.0,3792.1 L311.0,3793.3 L314.0,3792.9 L317.0,3792.5 L320.0,3792.8 L323.0,3792.4 L326.0,3792.4 L329.0,3791.3 L332.0,3791.1 L335.0,3790.7 L338.0,3789.6 L341.0,3789.4 L344.0,3789.1 L347.0,3788.1 L350.0,3788.3 L353.0,3788.3 L356.0,3787.6 L359.0,3787.6 L362.0,3787.9 L365.0,3787.7 L368.0,3787.9 L371.0,3787.3 L374.0,3786.9 L377.0,3787.4 L380.0,3786.7 L383.0,3787.3 L386.0,3786.6 L389.0,3788.4 L392.0,3790.0 L395.0,3791.5 L398.0,3793.2 L401.0,3794.9 L404.0,3795.0 L407.0,3795.2 L410.0,3794.9 L413.0,3794.9 L416.0,3795.4 L419.0,3795.3 L422.0,3794.4 L425.0,3794.1 L428.0,3792.9 L431.0,3792.3 L434.0,3791.6 L437.0,3791.6 L440.0,3791.5 L443.0,3791.1 L446.0,3791.6 L449.0,3791.3 L452.0,3791.9 L455.0,3791.5 L458.0,3791.7 L461.0,3791.2 L464.0,3791.6 L467.0,3791.1 L470.0,3791.5 L473.0,3791.3 L476.0,3791.0 L479.0,3789.6 L482.0,3789.0 L485.0,3789.0 L488.0,3787.7 L491.0,3787.9 L494.0,3787.0 L497.0,3786.8 L500.0,3787.8 L503.0,3789.2 L506.0,3790.9 L509.0,3792.5 L512.0,3792.4 L515.0,3791.5 L518.0,3790.2 L521.0,3789.0 L524.0,3788.5 L527.0,3787.6 L530.0,3786.3 L533.0,3786.4 L536.0,3785.8 L539.0,3786.1 L542.0,3786.1 L545.0,3786.4 L548.0,3786.0 L551.0,3786.0 L554.0,3786.6 L557.0,3786.7 L560.0,3787.5 L563.0,3787.8 L566.0,3788.6 L569.0,3788.7 L572.0,3788.4 L575.0,3789.4 L578.0,3790.3 L581.0,3790.4 L584.0,3791.8 L587.0,3791.3 L590.0,3790.7 L593.0,3789.4 L596.0,3788.1 L599.0,3786.4 L602.0,3787.9 L605.0,3789.0 L608.0,3790.1 L611.0,3790.5 L614.0,3790.4 L617.0,3790.4 L620.0,3789.0 L623.0,3789.4 L626.0,3789.0 L629.0,3788.7 L632.0,3788.4 L635.0,3788.5 L638.0,3788.7 L641.0,3788.2 L644.0,3788.5 L647.0,3788.7 L650.0,3788.3 L653.0,3788.0 L656.0,3787.3 L659.0,3785.9 L662.0,3782.5 L665.0,3778.7 L668.0,3772.7 L671.0,3765.4 L674.0,3756.7 L677.0,3746.9 L680.0,3737.4 L683.0,3728.6 L686.0,3722.5 L689.0,3718.6 L692.0,3718.8 L695.0,3721.2 L698.0,3724.6 L701.0,3730.3 L704.0,3736.3 L707.0,3743.8 L710.0,3753.5 L713.0,3763.5 L716.0,3772.6 L719.0,3780.0 L722.0,3785.8 L725.0,3788.5 L728.0,3789.8 L731.0,3790.0 L734.0,3789.5 L737.0,3787.9 L740.0,3787.7 L743.0,3786.8 L746.0,3786.4 L749.0,3785.1 L752.0,3785.8 L755.0,3786.7 L758.0,3787.9 L761.0,3789.3 L764.0,3790.5 L767.0,3789.5 L770.0,3788.7 L773.0,3787.6 L776.0,3786.9 L779.0,3786.3 L782.0,3785.2 L785.0,3784.8 L788.0,3785.3 L791.0,3786.9 L794.0,3788.1 L797.0,3788.7 L800.0,3790.3 L803.0,3791.5 L806.0,3792.3 L809.0,3792.6 L812.0,3791.1 L815.0,3790.0 L818.0,3789.3 L821.0,3788.0 L824.0,3787.0 L827.0,3787.5 L830.0,3787.7 L833.0,3788.9 L836.0,3790.1 L839.0,3790.1 L842.0,3791.5 L845.0,3792.3 L848.0,3791.3 L851.0,3790.4 L854.0,3788.9 L857.0,3787.6 L860.0,3786.9 L863.0,3787.0 L866.0,3787.7 L869.0,3787.6 L872.0,3788.2 L875.0,3789.6 L878.0,3789.0 L881.0,3787.9 L884.0,3787.6 L887.0,3787.0 L890.0,3786.3 L893.0,3786.2 L896.0,3786.0 L899.0,3785.5 L902.0,3784.8 L905.0,3784.3 L908.0,3784.4 L911.0,3784.0 L914.0,3784.9 L917.0,3786.1 L920.0,3788.5 L923.0,3789.5 L926.0,3791.6 L929.0,3792.4 L932.0,3791.8 L935.0,3790.5 L938.0,3790.4 L941.0,3788.5 L944.0,3788.2 L947.0,3786.7 L950.0,3786.5 L953.0,3786.5 L956.0,3786.5 L959.0,3787.0 L962.0,3786.5 L965.0,3787.2 L968.0,3787.4 L971.0,3786.7 L974.0,3787.0 L977.0,3787.4 L980.0,3786.2 L983.0,3786.2 L986.0,3784.9 L989.0,3784.3 L992.0,3784.2 L995.0,3784.7 L998.0,3785.0 L1001.0,3785.3 L1004.0,3785.7 L1007.0,3786.5 L1010.0,3788.5 L1013.0,3788.9 L1016.0,3790.3 L1019.0,3791.8 L1022.0,3791.6 L1025.0,3791.1 L1028.0,3789.5 L1031.0,3788.7 L1034.0,3787.0 L1037.0,3787.4 L1040.0,3788.3 L1043.0,3788.6 L1046.0,3789.5 L1049.0,3790.9 L1052.0,3791.5 L1055.0,3792.8 L1058.0,3793.5 L1061.0,3793.5 L1064.0,3792.6 L1067.0,3792.2 L1070.0,3792.6 L1073.0,3792.3 L1076.0,3791.6 L1079.0,3791.6 L1082.0,3790.9 L1085.0,3790.3 L1088.0,3789.9 L1091.0,3789.8 L1094.0,3790.3 L1097.0,3790.8 L1100.0,3791.4 L1103.0,3792.1 L1106.0,3792.4 L1109.0,3792.3 L1112.0,3791.4 L1115.0,3788.7 L1118.0,3786.1 L1121.0,3783.9 L1124.0,3781.4 L1127.0,3780.1 L1130.0,3780.6 L1133.0,3781.6 L1136.0,3782.4 L1139.0,3784.3 L1142.0,3786.3 L1145.0,3787.2 L1148.0,3787.4 L1151.0,3787.1 L1154.0,3787.0 L1157.0,3787.1 L1160.0,3786.7 L1163.0,3787.8 L1166.0,3788.6 L1169.0,3789.4 L1172.0,3790.2 L1175.0,3791.5 L1178.0,3792.6 L1181.0,3792.4 L1184.0,3792.0 L1187.0,3791.7 L1190.0,3790.9 L1193.0,3790.8 L1196.0,3790.5 L1199.0,3790.5 L1202.0,3790.4 L1205.0,3790.5 L1208.0,3791.2 L1211.0,3791.2 L1214.0,3791.7 L1217.0,3790.2 L1220.0,3789.5 L1223.0,3788.9 L1226.0,3787.7 L1229.0,3786.9 L1232.0,3786.1 L1235.0,3785.1 L1238.0,3785.0 L1241.0,3784.6 L1244.0,3784.9 L1247.0,3785.0 L1250.0,3785.4 L1253.0,3786.2 L1256.0,3785.8 L1259.0,3786.0 L1262.0,3786.9 L1265.0,3786.6 L1268.0,3785.5 L1271.0,3785.5 L1274.0,3784.8 L1277.0,3784.7 L1280.0,3784.8 L1283.0,3784.5 L1286.0,3784.2 L1289.0,3784.3 L1292.0,3784.0 L1295.0,3783.6 L1298.0,3783.8 L1301.0,3783.1 L1304.0,3782.9 L1307.0,3783.3 L1310.0,3783.1 L1313.0,3782.6 L1316.0,3782.9 L1319.0,3783.2 L1322.0,3784.1 L1325.0,3784.7 L1328.0,3785.5 L1331.0,3786.1 L1334.0,3786.0 L1337.0,3785.4 L1340.0,3785.8 L1343.0,3785.0 L1346.0,3785.5 L1349.0,3785.7 L1352.0,3785.5 L1355.0,3784.9 L1358.0,3784.7 L1361.0,3784.8 L1364.0,3784.9 L1367.0,3784.9 L1370.0,3784.5 L1373.0,3784.3 L1376.0,3784.3 L1379.0,3784.2 L1382.0,3784.3 L1385.0,3785.5 L1388.0,3785.4 L1391.0,3785.5 L1394.0,3785.9 L1397.0,3785.4 L1400.0,3784.8 L1403.0,3784.4 L1406.0,3784.3 L1409.0,3785.0 L1412.0,3786.1 L1415.0,3787.6 L1418.0,3787.9 L1421.0,3789.1 L1424.0,3788.1 L1427.0,3788.0 L1430.0,3788.2 L1433.0,3788.0 L1436.0,3788.1 L1439.0,3788.0 L1442.0,3787.9 L1445.0,3787.5 L1448.0,3787.2 L1451.0,3786.8 L1454.0,3787.2 L1457.0,3785.9 L1460.0,3785.4 L1463.0,3785.5 L1466.0,3785.2 L1469.0,3785.1 L1472.0,3785.0 L1475.0,3785.3 L1478.0,3785.3 L1481.0,3785.3 L1484.0,3786.0 L1487.0,3786.1 L1490.0,3786.4 L1493.0,3786.5 L1496.0,3787.6 L1499.0,3786.3 L1502.0,3785.9 L1505.0,3784.9 L1508.0,3783.7 L1511.0,3783.2 L1514.0,3782.5 L1517.0,3781.2 L1520.0,3781.8 L1523.0,3781.9 L1526.0,3781.7 L1529.0,3781.9 L1532.0,3782.6 L1535.0,3783.0 L1538.0,3783.8 L1541.0,3784.9 L1544.0,3785.6 L1547.0,3786.8 L1550.0,3787.6 L1553.0,3787.7 L1556.0,3787.3 L1559.0,3786.1 L1562.0,3784.5 L1565.0,3783.2 L1568.0,3780.5 L1571.0,3779.0 L1574.0,3777.3 L1577.0,3775.1 L1580.0,3772.9 L1583.0,3773.4 L1586.0,3772.8 L1589.0,3773.4 L1592.0,3773.5 L1595.0,3774.1 L1598.0,3774.9 L1601.0,3776.2 L1604.0,3776.3 L1607.0,3775.1 L1610.0,3774.3 L1613.0,3772.5 L1616.0,3770.2 L1619.0,3765.4 L1622.0,3758.3 L1625.0,3747.3 L1628.0,3729.6 L1631.0,3702.5 L1634.0,3663.7 L1637.0,3610.9 L1640.0,3542.1 L1643.0,3457.6 L1646.0,3358.5 L1649.0,3247.2 L1652.0,3128.9 L1655.0,3009.0 L1658.0,2893.3 L1661.0,2788.1 L1664.0,2698.5 L1667.0,2627.6 L1670.0,2577.2 L1673.0,2546.7 L1676.0,2533.1 L1678.5,2530.8 L1679.0,2531.0 L1682.0,2536.1 L1685.0,2555.1 L1688.0,2591.9 L1691.0,2649.4 L1694.0,2726.9 L1697.0,2822.7 L1700.0,2932.0 L1703.0,3050.1 L1706.0,3170.4 L1709.0,3287.1 L1712.0,3395.2 L1715.0,3490.3 L1718.0,3570.1 L1721.0,3634.0 L1724.0,3682.4 L1727.0,3717.4 L1730.0,3742.0 L1733.0,3759.2 L1736.0,3770.8 L1739.0,3777.1 L1742.0,3781.9 L1745.0,3784.9 L1748.0,3785.8 L1751.0,3786.3 L1754.0,3785.8 L1757.0,3786.0 L1760.0,3785.4 L1763.0,3785.8 L1766.0,3785.8 L1769.0,3786.2 L1772.0,3785.8 L1775.0,3786.3 L1778.0,3786.0 L1781.0,3786.7 L1784.0,3786.5 L1787.0,3785.7 L1790.0,3785.6 L1793.0,3785.6 L1796.0,3784.8 L1799.0,3784.9 L1802.0,3784.6 L1805.0,3784.5 L1808.0,3784.4 L1811.0,3784.3 L1814.0,3785.0 L1817.0,3784.4 L1820.0,3784.6 L1823.0,3784.3 L1826.0,3784.3 L1829.0,3784.2 L1832.0,3785.0 L1835.0,3785.4 L1838.0,3785.3 L1841.0,3786.1 L1844.0,3786.6 L1847.0,3787.7 L1850.0,3787.8 L1853.0,3788.3 L1856.0,3789.4 L1859.0,3790.8 L1862.0,3791.3 L1865.0,3791.9 L1868.0,3791.4 L1871.0,3792.0 L1874.0,3791.3 L1877.0,3791.9 L1880.0,3791.6 L1883.0,3791.3 L1886.0,3791.5 L1889.0,3791.7 L1892.0,3791.5 L1895.0,3791.3 L1898.0,3791.0 L1901.0,3791.1 L1904.0,3790.7 L1907.0,3790.8 L1910.0,3790.1 L1913.0,3789.5 L1916.0,3788.7 L1919.0,3788.1 L1922.0,3787.9 L1925.0,3787.6 L1928.0,3786.3 L1931.0,3785.9 L1934.0,3786.4 L1937.0,3786.5 L1940.0,3786.5 L1943.0,3785.7 L1946.0,3786.4 L1949.0,3785.7 L1952.0,3785.6 L1955.0,3785.3 L1958.0,3785.4 L1961.0,3784.6 L1964.0,3784.3 L1967.0,3784.2 L1970.0,3783.7 L1973.0,3783.9 L1976.0,3783.3 L1979.0,3785.2 L1982.0,3787.6 L1985.0,3789.2 L1988.0,3791.2 L1991.0,3792.0 L1994.0,3792.1 L1997.0,3791.3 L2000.0,3791.1 L2003.0,3790.6 L2006.0,3791.1 L2009.0,3791.0 L2012.0,3790.5 L2015.0,3789.9 L2018.0,3790.3 L2021.0,3789.7 L2024.0,3789.4 L2027.0,3789.2 L2030.0,3789.1 L2033.0,3789.5 L2036.0,3789.0 L2039.0,3789.0 L2042.0,3788.0 L2045.0,3788.3 L2048.0,3787.7 L2051.0,3787.4 L2054.0,3787.9 L2057.0,3787.2 L2060.0,3787.3 L2063.0,3786.5 L2066.0,3785.2 L2069.0,3782.9 L2072.0,3780.6 L2075.0,3776.8 L2078.0,3771.2 L2081.0,3764.2 L2084.0,3754.5 L2087.0,3741.7 L2090.0,3726.3 L2093.0,3707.0 L2096.0,3685.1 L2099.0,3661.3 L2102.0,3636.5 L2105.0,3612.2 L2108.0,3590.2 L2111.0,3572.1 L2114.0,3559.4 L2117.0,3553.2 L2118.0,3553.0 L2120.0,3554.7 L2123.0,3563.1 L2126.0,3577.6 L2129.0,3597.3 L2132.0,3620.6 L2135.0,3645.7 L2138.0,3670.7 L2141.0,3693.7 L2144.0,3712.9 L2147.0,3729.2 L2150.0,3742.8 L2153.0,3753.2 L2156.0,3760.5 L2159.0,3765.8 L2162.0,3767.3 L2165.0,3767.8 L2168.0,3765.8 L2171.0,3763.4 L2174.0,3760.9 L2177.0,3758.2 L2180.0,3757.8 L2183.0,3757.3 L2186.0,3756.7 L2189.0,3755.6 L2192.0,3753.0 L2195.0,3749.5 L2198.0,3746.9 L2201.0,3744.1 L2204.0,3741.3 L2206.0,3738.7" fill="none" stroke="#067a06" stroke-width="7.5" stroke-linejoin="round" stroke-linecap="round"/>
<path d="M149.0,3944.2 L152.0,3944.2 L155.0,3944.5 L158.0,3943.9 L161.0,3944.1 L164.0,3944.1 L167.0,3943.7 L170.0,3943.7 L173.0,3943.9 L176.0,3943.6 L179.0,3944.0 L182.0,3943.4 L185.0,3942.1 L188.0,3942.4 L191.0,3941.0 L194.0,3940.6 L197.0,3940.1 L200.0,3939.3 L203.0,3938.5 L206.0,3938.1 L209.0,3937.4 L212.0,3937.8 L215.0,3937.6 L218.0,3937.5 L221.0,3936.4 L224.0,3933.4 L227.0,3927.5 L230.0,3920.2 L233.0,3910.6 L236.0,3898.5 L239.0,3883.8 L242.0,3867.0 L245.0,3848.8 L248.0,3830.2 L251.0,3811.9 L254.0,3796.3 L257.0,3784.5 L260.0,3777.5 L262.0,3776.1 L263.0,3776.3 L266.0,3781.4 L269.0,3791.8 L272.0,3806.7 L275.0,3824.4 L278.0,3843.5 L281.0,3862.0 L284.0,3879.6 L287.0,3894.9 L290.0,3908.2 L293.0,3918.8 L296.0,3926.5 L299.0,3931.9 L302.0,3934.4 L305.0,3935.5 L308.0,3936.6 L311.0,3936.2 L314.0,3936.1 L317.0,3936.3 L320.0,3936.1 L323.0,3936.3 L326.0,3937.2 L329.0,3937.7 L332.0,3937.7 L335.0,3938.2 L338.0,3938.2 L341.0,3939.3 L344.0,3938.9 L347.0,3939.9 L350.0,3939.2 L353.0,3939.5 L356.0,3939.9 L359.0,3939.5 L362.0,3940.3 L365.0,3939.6 L368.0,3939.6 L371.0,3940.6 L374.0,3940.0 L377.0,3940.6 L380.0,3940.6 L383.0,3940.5 L386.0,3940.7 L389.0,3940.9 L392.0,3941.0 L395.0,3941.2 L398.0,3942.1 L401.0,3942.2 L404.0,3942.8 L407.0,3943.4 L410.0,3942.7 L413.0,3942.5 L416.0,3942.1 L419.0,3942.1 L422.0,3941.9 L425.0,3941.6 L428.0,3940.9 L431.0,3940.8 L434.0,3940.5 L437.0,3940.3 L440.0,3939.3 L443.0,3938.3 L446.0,3938.2 L449.0,3938.0 L452.0,3937.2 L455.0,3936.8 L458.0,3935.4 L461.0,3935.0 L464.0,3934.6 L467.0,3934.8 L470.0,3935.0 L473.0,3935.6 L476.0,3936.1 L479.0,3935.8 L482.0,3936.7 L485.0,3937.1 L488.0,3937.7 L491.0,3938.1 L494.0,3938.6 L497.0,3939.0 L500.0,3939.0 L503.0,3940.0 L506.0,3939.5 L509.0,3939.1 L512.0,3938.6 L515.0,3938.1 L518.0,3938.0 L521.0,3937.0 L524.0,3936.4 L527.0,3935.9 L530.0,3937.0 L533.0,3938.5 L536.0,3938.9 L539.0,3940.5 L542.0,3940.7 L545.0,3941.8 L548.0,3941.6 L551.0,3940.1 L554.0,3937.7 L557.0,3936.3 L560.0,3934.9 L563.0,3936.1 L566.0,3937.5 L569.0,3938.3 L572.0,3938.8 L575.0,3938.5 L578.0,3939.2 L581.0,3939.3 L584.0,3939.0 L587.0,3939.3 L590.0,3939.4 L593.0,3938.9 L596.0,3939.7 L599.0,3939.7 L602.0,3939.5 L605.0,3939.2 L608.0,3939.1 L611.0,3939.1 L614.0,3938.9 L617.0,3940.4 L620.0,3941.4 L623.0,3941.8 L626.0,3942.7 L629.0,3943.7 L632.0,3942.2 L635.0,3940.7 L638.0,3939.5 L641.0,3938.8 L644.0,3936.9 L647.0,3937.1 L650.0,3937.8 L653.0,3937.9 L656.0,3936.1 L659.0,3934.1 L662.0,3929.6 L665.0,3922.7 L668.0,3913.2 L671.0,3902.3 L674.0,3889.3 L677.0,3875.5 L680.0,3861.7 L683.0,3849.2 L686.0,3840.2 L689.0,3834.8 L692.0,3833.9 L695.0,3836.7 L698.0,3843.1 L701.0,3851.8 L704.0,3861.7 L707.0,3872.7 L710.0,3884.4 L713.0,3896.9 L716.0,3909.8 L719.0,3920.4 L722.0,3928.6 L725.0,3933.5 L728.0,3937.2 L731.0,3938.8 L734.0,3939.4 L737.0,3940.1 L740.0,3940.2 L743.0,3940.2 L746.0,3940.4 L749.0,3941.2 L752.0,3941.9 L755.0,3942.8 L758.0,3943.4 L761.0,3944.1 L764.0,3943.9 L767.0,3943.9 L770.0,3944.1 L773.0,3944.0 L776.0,3943.1 L779.0,3943.8 L782.0,3943.5 L785.0,3943.6 L788.0,3943.2 L791.0,3942.0 L794.0,3940.8 L797.0,3939.8 L800.0,3938.4 L803.0,3936.5 L806.0,3936.7 L809.0,3937.8 L812.0,3938.6 L815.0,3939.7 L818.0,3940.4 L821.0,3941.0 L824.0,3941.7 L827.0,3943.1 L830.0,3944.2 L833.0,3943.0 L836.0,3942.0 L839.0,3941.1 L842.0,3940.5 L845.0,3940.0 L848.0,3940.1 L851.0,3941.3 L854.0,3942.0 L857.0,3942.0 L860.0,3942.8 L863.0,3943.8 L866.0,3941.3 L869.0,3939.0 L872.0,3937.3 L875.0,3934.5 L878.0,3934.9 L881.0,3935.6 L884.0,3936.6 L887.0,3937.0 L890.0,3937.5 L893.0,3938.7 L896.0,3938.7 L899.0,3939.4 L902.0,3940.2 L905.0,3940.3 L908.0,3940.6 L911.0,3941.5 L914.0,3941.4 L917.0,3942.1 L920.0,3941.8 L923.0,3942.3 L926.0,3942.0 L929.0,3941.4 L932.0,3941.6 L935.0,3942.2 L938.0,3942.1 L941.0,3941.7 L944.0,3940.8 L947.0,3939.0 L950.0,3938.0 L953.0,3936.9 L956.0,3936.0 L959.0,3936.6 L962.0,3937.2 L965.0,3938.0 L968.0,3938.4 L971.0,3938.9 L974.0,3939.0 L977.0,3939.6 L980.0,3939.7 L983.0,3939.2 L986.0,3939.1 L989.0,3939.4 L992.0,3940.1 L995.0,3940.2 L998.0,3940.9 L1001.0,3941.5 L1004.0,3941.6 L1007.0,3942.4 L1010.0,3941.6 L1013.0,3942.4 L1016.0,3942.5 L1019.0,3941.8 L1022.0,3941.8 L1025.0,3942.2 L1028.0,3941.9 L1031.0,3941.6 L1034.0,3942.7 L1037.0,3943.2 L1040.0,3943.2 L1043.0,3943.7 L1046.0,3943.7 L1049.0,3944.2 L1052.0,3943.7 L1055.0,3943.5 L1058.0,3944.5 L1061.0,3943.6 L1064.0,3944.6 L1067.0,3944.3 L1070.0,3944.3 L1073.0,3942.7 L1076.0,3942.3 L1079.0,3941.3 L1082.0,3940.0 L1085.0,3938.9 L1088.0,3938.5 L1091.0,3937.2 L1094.0,3935.1 L1097.0,3934.6 L1100.0,3934.7 L1103.0,3934.0 L1106.0,3932.4 L1109.0,3930.3 L1112.0,3928.9 L1115.0,3926.7 L1118.0,3924.8 L1121.0,3923.2 L1124.0,3921.6 L1127.0,3921.7 L1130.0,3922.6 L1133.0,3923.7 L1136.0,3926.4 L1139.0,3927.5 L1142.0,3929.6 L1145.0,3931.6 L1148.0,3932.7 L1151.0,3934.5 L1154.0,3935.4 L1157.0,3936.5 L1160.0,3936.7 L1163.0,3937.8 L1166.0,3937.5 L1169.0,3937.5 L1172.0,3938.3 L1175.0,3937.9 L1178.0,3938.4 L1181.0,3938.2 L1184.0,3938.7 L1187.0,3939.0 L1190.0,3940.0 L1193.0,3939.9 L1196.0,3940.7 L1199.0,3940.9 L1202.0,3941.3 L1205.0,3940.5 L1208.0,3940.4 L1211.0,3940.0 L1214.0,3938.9 L1217.0,3938.4 L1220.0,3937.8 L1223.0,3938.5 L1226.0,3939.0 L1229.0,3938.8 L1232.0,3939.5 L1235.0,3939.6 L1238.0,3940.4 L1241.0,3940.6 L1244.0,3940.1 L1247.0,3938.6 L1250.0,3937.8 L1253.0,3937.3 L1256.0,3935.3 L1259.0,3935.2 L1262.0,3936.8 L1265.0,3938.6 L1268.0,3940.5 L1271.0,3942.4 L1274.0,3941.7 L1277.0,3941.3 L1280.0,3940.6 L1283.0,3939.1 L1286.0,3938.3 L1289.0,3937.7 L1292.0,3937.1 L1295.0,3935.8 L1298.0,3936.5 L1301.0,3936.5 L1304.0,3937.2 L1307.0,3938.4 L1310.0,3938.8 L1313.0,3939.4 L1316.0,3940.0 L1319.0,3940.6 L1322.0,3940.9 L1325.0,3941.1 L1328.0,3941.6 L1331.0,3942.6 L1334.0,3943.2 L1337.0,3943.7 L1340.0,3941.7 L1343.0,3940.8 L1346.0,3939.2 L1349.0,3936.9 L1352.0,3937.1 L1355.0,3937.7 L1358.0,3939.4 L1361.0,3939.8 L1364.0,3941.3 L1367.0,3942.9 L1370.0,3942.6 L1373.0,3941.5 L1376.0,3941.7 L1379.0,3941.2 L1382.0,3941.2 L1385.0,3939.9 L1388.0,3940.2 L1391.0,3940.2 L1394.0,3939.4 L1397.0,3939.9 L1400.0,3939.5 L1403.0,3939.8 L1406.0,3938.9 L1409.0,3939.0 L1412.0,3939.0 L1415.0,3939.2 L1418.0,3938.6 L1421.0,3937.6 L1424.0,3937.7 L1427.0,3937.5 L1430.0,3936.9 L1433.0,3936.3 L1436.0,3936.0 L1439.0,3935.7 L1442.0,3935.2 L1445.0,3935.8 L1448.0,3935.8 L1451.0,3936.0 L1454.0,3936.0 L1457.0,3935.7 L1460.0,3935.9 L1463.0,3936.8 L1466.0,3937.8 L1469.0,3938.1 L1472.0,3939.1 L1475.0,3940.1 L1478.0,3940.8 L1481.0,3941.8 L1484.0,3942.1 L1487.0,3942.0 L1490.0,3942.0 L1493.0,3941.9 L1496.0,3941.1 L1499.0,3940.7 L1502.0,3940.6 L1505.0,3940.5 L1508.0,3939.6 L1511.0,3939.9 L1514.0,3940.0 L1517.0,3940.3 L1520.0,3941.1 L1523.0,3941.3 L1526.0,3941.6 L1529.0,3941.2 L1532.0,3939.8 L1535.0,3938.9 L1538.0,3937.7 L1541.0,3937.7 L1544.0,3936.6 L1547.0,3936.2 L1550.0,3936.6 L1553.0,3937.4 L1556.0,3937.1 L1559.0,3938.3 L1562.0,3937.8 L1565.0,3938.9 L1568.0,3938.8 L1571.0,3938.6 L1574.0,3939.7 L1577.0,3939.7 L1580.0,3939.2 L1583.0,3938.6 L1586.0,3938.1 L1589.0,3937.8 L1592.0,3937.1 L1595.0,3936.1 L1598.0,3934.9 L1601.0,3934.9 L1604.0,3934.0 L1607.0,3933.2 L1610.0,3932.3 L1613.0,3931.7 L1616.0,3930.9 L1619.0,3930.6 L1622.0,3929.3 L1625.0,3926.4 L1628.0,3921.7 L1631.0,3914.5 L1634.0,3903.8 L1637.0,3889.7 L1640.0,3870.3 L1643.0,3846.3 L1646.0,3817.3 L1649.0,3783.0 L1652.0,3743.9 L1655.0,3700.3 L1658.0,3653.0 L1661.0,3604.2 L1664.0,3555.2 L1667.0,3508.3 L1670.0,3466.3 L1673.0,3431.0 L1676.0,3404.8 L1679.0,3389.1 L1681.5,3384.8 L1682.0,3384.9 L1685.0,3392.5 L1688.0,3411.7 L1691.0,3441.2 L1694.0,3478.8 L1697.0,3522.7 L1700.0,3570.1 L1703.0,3619.2 L1706.0,3667.9 L1709.0,3713.6 L1712.0,3756.0 L1715.0,3793.5 L1718.0,3825.0 L1721.0,3851.7 L1724.0,3872.8 L1727.0,3890.7 L1730.0,3904.8 L1733.0,3915.6 L1736.0,3923.7 L1739.0,3930.0 L1742.0,3933.8 L1745.0,3937.5 L1748.0,3940.1 L1751.0,3941.3 L1754.0,3941.9 L1757.0,3941.5 L1760.0,3941.8 L1763.0,3940.4 L1766.0,3940.1 L1769.0,3939.1 L1772.0,3938.7 L1775.0,3938.4 L1778.0,3939.0 L1781.0,3938.4 L1784.0,3939.3 L1787.0,3939.2 L1790.0,3939.0 L1793.0,3939.5 L1796.0,3939.8 L1799.0,3940.2 L1802.0,3940.7 L1805.0,3941.8 L1808.0,3941.8 L1811.0,3942.6 L1814.0,3943.6 L1817.0,3944.7 L1820.0,3944.5 L1823.0,3944.7 L1826.0,3944.0 L1829.0,3944.2 L1832.0,3943.2 L1835.0,3943.0 L1838.0,3942.8 L1841.0,3942.5 L1844.0,3942.8 L1847.0,3941.8 L1850.0,3941.9 L1853.0,3941.5 L1856.0,3940.6 L1859.0,3940.5 L1862.0,3940.2 L1865.0,3940.4 L1868.0,3939.7 L1871.0,3940.9 L1874.0,3942.4 L1877.0,3943.3 L1880.0,3944.9 L1883.0,3945.2 L1886.0,3943.9 L1889.0,3943.4 L1892.0,3941.8 L1895.0,3941.4 L1898.0,3942.5 L1901.0,3943.7 L1904.0,3944.0 L1907.0,3945.2 L1910.0,3945.3 L1913.0,3945.7 L1916.0,3944.8 L1919.0,3945.1 L1922.0,3944.3 L1925.0,3943.5 L1928.0,3943.0 L1931.0,3943.1 L1934.0,3943.3 L1937.0,3943.0 L1940.0,3942.9 L1943.0,3942.8 L1946.0,3942.6 L1949.0,3941.8 L1952.0,3941.8 L1955.0,3942.2 L1958.0,3942.3 L1961.0,3942.0 L1964.0,3942.6 L1967.0,3942.3 L1970.0,3941.7 L1973.0,3942.2 L1976.0,3942.3 L1979.0,3941.8 L1982.0,3941.7 L1985.0,3941.6 L1988.0,3942.0 L1991.0,3942.0 L1994.0,3943.2 L1997.0,3943.6 L2000.0,3944.2 L2003.0,3945.7 L2006.0,3945.9 L2009.0,3946.5 L2012.0,3945.6 L2015.0,3945.3 L2018.0,3943.7 L2021.0,3942.9 L2024.0,3942.7 L2027.0,3942.3 L2030.0,3940.8 L2033.0,3941.0 L2036.0,3940.5 L2039.0,3939.8 L2042.0,3939.2 L2045.0,3939.1 L2048.0,3938.8 L2051.0,3938.8 L2054.0,3938.5 L2057.0,3937.9 L2060.0,3937.7 L2063.0,3937.5 L2066.0,3939.2 L2069.0,3939.9 L2072.0,3939.6 L2075.0,3939.9 L2078.0,3938.4 L2081.0,3934.7 L2084.0,3929.6 L2087.0,3922.7 L2090.0,3915.0 L2093.0,3906.2 L2096.0,3896.4 L2099.0,3885.4 L2102.0,3873.9 L2105.0,3862.6 L2108.0,3852.2 L2111.0,3843.6 L2114.0,3837.0 L2117.0,3833.3 L2120.0,3832.6 L2123.0,3835.1 L2126.0,3840.5 L2129.0,3848.4 L2132.0,3858.0 L2135.0,3868.8 L2138.0,3880.0 L2141.0,3891.2 L2144.0,3901.8 L2147.0,3910.8 L2150.0,3918.6 L2153.0,3923.7 L2156.0,3928.2 L2159.0,3931.0 L2162.0,3933.2 L2165.0,3934.6 L2168.0,3935.8 L2171.0,3935.9 L2174.0,3936.9 L2177.0,3935.7 L2180.0,3933.8 L2183.0,3931.7 L2186.0,3929.8 L2189.0,3927.1 L2192.0,3924.9 L2195.0,3922.9 L2198.0,3921.3 L2201.0,3920.0 L2204.0,3919.0 L2206.0,3918.1" fill="none" stroke="#08ff08" stroke-width="7.5" stroke-linejoin="round" stroke-linecap="round"/>
<g style="mix-blend-mode:multiply"><line x1="263.3" y1="3286" x2="263.3" y2="3966" stroke="#c8c8c8" stroke-width="12"/><line x1="263.3" y1="3286" x2="263.3" y2="3966" stroke="#1a1a1a" stroke-width="6"/></g>
<g style="mix-blend-mode:multiply"><line x1="690.5" y1="3285" x2="690.5" y2="3972" stroke="#c8c8c8" stroke-width="12"/><line x1="690.5" y1="3285" x2="690.5" y2="3972" stroke="#1a1a1a" stroke-width="6"/></g>
<g style="mix-blend-mode:multiply"><line x1="1678" y1="2445" x2="1678" y2="3966" stroke="#c8c8c8" stroke-width="12"/><line x1="1678" y1="2445" x2="1678" y2="3966" stroke="#1a1a1a" stroke-width="6"/></g>
<g style="mix-blend-mode:multiply"><line x1="2123" y1="3285.5" x2="2123" y2="3966" stroke="#c8c8c8" stroke-width="12"/><line x1="2123" y1="3285.5" x2="2123" y2="3966" stroke="#1a1a1a" stroke-width="6"/></g>
<line x1="156" y1="3965" x2="2208" y2="3965" stroke="#111" stroke-width="6"/>
<line x1="561.5" y1="3965" x2="561.5" y2="3999" stroke="#151515" stroke-width="5.5"/>
<line x1="972" y1="3965" x2="972" y2="3999" stroke="#151515" stroke-width="5.5"/>
<line x1="1382.2" y1="3965" x2="1382.2" y2="3999" stroke="#151515" stroke-width="5.5"/>
<line x1="1794.7" y1="3965" x2="1794.7" y2="3999" stroke="#151515" stroke-width="5.5"/>
<line x1="2205.4" y1="3962" x2="2205.4" y2="3999" stroke="#151515" stroke-width="5.5"/>
<line x1="355.6" y1="3965" x2="355.6" y2="3984" stroke="#151515" stroke-width="5.5"/>
<line x1="766" y1="3965" x2="766" y2="3984" stroke="#151515" stroke-width="5.5"/>
<line x1="1178.6" y1="3965" x2="1178.6" y2="3984" stroke="#151515" stroke-width="5.5"/>
<line x1="1587.6" y1="3965" x2="1587.6" y2="3984" stroke="#151515" stroke-width="5.5"/>
<line x1="2000" y1="3965" x2="2000" y2="3984" stroke="#151515" stroke-width="5.5"/>
<rect x="109" y="293" width="12" height="3" fill="#bdbdbd"/>
<rect x="148" y="3864.5" width="6" height="3" fill="#c4c4c4"/>
<rect x="148" y="3405" width="5" height="8" fill="#333" opacity="0.55"/>
<rect x="148" y="3536" width="5" height="8" fill="#333" opacity="0.55"/>
<rect x="148" y="3667" width="5" height="8" fill="#333" opacity="0.55"/>
<rect x="148" y="3791" width="5" height="8" fill="#333" opacity="0.55"/>
<rect x="148" y="3943" width="5" height="8" fill="#333" opacity="0.55"/>
<g font-family="'Liberation Sans',Arial,sans-serif" font-weight="bold" fill="#000">
<text transform="translate(-0.69,72.00) scale(0.9219,1)" font-size="120.37">a</text>
<text transform="translate(378.23,184.00) scale(0.9611,1)" font-size="91.30">MoO</text>
<text transform="translate(573.96,211.50) scale(1.0423,1)" font-size="50.00">3-x</text>
<text transform="translate(672.18,184.00) scale(0.9697,1)" font-size="91.30">nanowhiskers as a precursor</text>
<text transform="translate(253.58,413.50) scale(0.9717,1)" font-size="91.57">2 hours annealing</text>
<clipPath id="c_a_l2" clipPathUnits="userSpaceOnUse"><path clip-rule="evenodd" d="M-50,-183.1 H2747.1 V91.6 H-50 Z M-5.49,-10.26 H21.24 V5.49 H-5.49 Z M33.70,-10.26 H50.18 V5.49 H33.70 Z"/></clipPath><text transform="translate(250.68,511.60) scale(0.9698,1)" font-size="91.57" clip-path="url(#c_a_l2)">1 hour annealing</text>
<text transform="translate(254.56,607.70) scale(0.9677,1)" font-size="91.57">30 minutes annealing</text>
<clipPath id="c_a_l4" clipPathUnits="userSpaceOnUse"><path clip-rule="evenodd" d="M-50,-183.1 H2747.1 V91.6 H-50 Z M-5.49,-10.26 H21.24 V5.49 H-5.49 Z M33.70,-10.26 H50.18 V5.49 H33.70 Z"/></clipPath><text transform="translate(250.71,698.90) scale(0.9653,1)" font-size="91.57" clip-path="url(#c_a_l4)">1 year in room temperature</text>
<text transform="translate(253.60,794.40) scale(0.9682,1)" font-size="91.57">after the synthesis</text>
<clipPath id="c_a_x12" clipPathUnits="userSpaceOnUse"><path clip-rule="evenodd" d="M-50,-115.7 H1735.8 V57.9 H-50 Z M-3.47,-6.48 H13.42 V3.47 H-3.47 Z M21.29,-6.48 H31.71 V3.47 H21.29 Z"/></clipPath><text transform="translate(526.56,1828.00) scale(0.9862,1)" font-size="57.86" stroke="#fff" stroke-width="1.0" clip-path="url(#c_a_x12)">12.00</text>
<clipPath id="c_a_x14" clipPathUnits="userSpaceOnUse"><path clip-rule="evenodd" d="M-50,-115.7 H1735.8 V57.9 H-50 Z M-3.47,-6.48 H13.42 V3.47 H-3.47 Z M21.29,-6.48 H31.71 V3.47 H21.29 Z"/></clipPath><text transform="translate(921.33,1828.00) scale(0.9920,1)" font-size="57.86" stroke="#fff" stroke-width="1.0" clip-path="url(#c_a_x14)">14.00</text>
<clipPath id="c_a_x16" clipPathUnits="userSpaceOnUse"><path clip-rule="evenodd" d="M-50,-115.7 H1735.8 V57.9 H-50 Z M-3.47,-6.48 H13.42 V3.47 H-3.47 Z M21.29,-6.48 H31.71 V3.47 H21.29 Z"/></clipPath><text transform="translate(1314.75,1828.00) scale(0.9877,1)" font-size="57.86" stroke="#fff" stroke-width="1.0" clip-path="url(#c_a_x16)">16.00</text>
<clipPath id="c_a_x18" clipPathUnits="userSpaceOnUse"><path clip-rule="evenodd" d="M-50,-115.7 H1735.8 V57.9 H-50 Z M-3.47,-6.48 H13.42 V3.47 H-3.47 Z M21.29,-6.48 H31.71 V3.47 H21.29 Z"/></clipPath><text transform="translate(1713.52,1828.00) scale(0.9710,1)" font-size="57.86" stroke="#fff" stroke-width="1.0" clip-path="url(#c_a_x18)">18.00</text>
<text transform="translate(2104.04,1828.00) scale(0.9786,1)" font-size="57.86" stroke="#fff" stroke-width="1.0">20.00</text>
<text transform="translate(921.08,2028.90) scale(0.9360,1)" font-size="94.64">Energy (KeV)</text>
<text transform="translate(29.16,2181.80) scale(1.0177,1)" font-size="123.01">b</text>
<text transform="translate(529.88,2299.60) scale(0.9604,1)" font-size="98.55">MoS</text>
<text transform="translate(730.00,2331.40) scale(1.0000,1)" font-size="53.43">2</text>
<text transform="translate(786.77,2299.60) scale(0.9549,1)" font-size="98.55">nanotubes as a precursor</text>
<text transform="translate(293.19,2533.20) scale(0.9691,1)" font-size="97.14">2 hours annealing</text>
<clipPath id="c_b_l2" clipPathUnits="userSpaceOnUse"><path clip-rule="evenodd" d="M-50,-194.3 H2914.2 V97.1 H-50 Z M-5.83,-10.88 H22.54 V5.83 H-5.83 Z M35.75,-10.88 H53.23 V5.83 H35.75 Z"/></clipPath><text transform="translate(290.28,2635.80) scale(0.9697,1)" font-size="97.14" clip-path="url(#c_b_l2)">1 hour annealing</text>
<text transform="translate(294.16,2738.70) scale(0.9680,1)" font-size="97.14">30 minutes annealing</text>
<clipPath id="c_b_l4" clipPathUnits="userSpaceOnUse"><path clip-rule="evenodd" d="M-50,-194.3 H2914.2 V97.1 H-50 Z M-5.83,-10.88 H22.54 V5.83 H-5.83 Z M35.75,-10.88 H53.23 V5.83 H35.75 Z"/></clipPath><text transform="translate(290.30,2833.50) scale(0.9673,1)" font-size="97.14" clip-path="url(#c_b_l4)">1 year in room temperature</text>
<text transform="translate(293.20,2935.50) scale(0.9672,1)" font-size="97.14">after the synthesis</text>
<clipPath id="c_b_x12" clipPathUnits="userSpaceOnUse"><path clip-rule="evenodd" d="M-50,-126.3 H1894.2 V63.1 H-50 Z M-3.79,-7.07 H14.65 V3.79 H-3.79 Z M23.24,-7.07 H34.60 V3.79 H23.24 Z"/></clipPath><text transform="translate(484.61,4057.20) scale(0.9470,1)" font-size="63.14" stroke="#fff" stroke-width="1.0" clip-path="url(#c_b_x12)">12.00</text>
<clipPath id="c_b_x14" clipPathUnits="userSpaceOnUse"><path clip-rule="evenodd" d="M-50,-126.3 H1894.2 V63.1 H-50 Z M-3.79,-7.07 H14.65 V3.79 H-3.79 Z M23.24,-7.07 H34.60 V3.79 H23.24 Z"/></clipPath><text transform="translate(894.24,4057.20) scale(0.9404,1)" font-size="63.14" stroke="#fff" stroke-width="1.0" clip-path="url(#c_b_x14)">14.00</text>
<clipPath id="c_b_x16" clipPathUnits="userSpaceOnUse"><path clip-rule="evenodd" d="M-50,-126.3 H1894.2 V63.1 H-50 Z M-3.79,-7.07 H14.65 V3.79 H-3.79 Z M23.24,-7.07 H34.60 V3.79 H23.24 Z"/></clipPath><text transform="translate(1310.19,4057.20) scale(0.9536,1)" font-size="63.14" stroke="#fff" stroke-width="1.0" clip-path="url(#c_b_x16)">16.00</text>
<clipPath id="c_b_x18" clipPathUnits="userSpaceOnUse"><path clip-rule="evenodd" d="M-50,-126.3 H1894.2 V63.1 H-50 Z M-3.79,-7.07 H14.65 V3.79 H-3.79 Z M23.24,-7.07 H34.60 V3.79 H23.24 Z"/></clipPath><text transform="translate(1718.11,4057.20) scale(0.9735,1)" font-size="63.14" stroke="#fff" stroke-width="1.0" clip-path="url(#c_b_x18)">18.00</text>
<text transform="translate(2129.08,4057.20) scale(0.9608,1)" font-size="63.14" stroke="#fff" stroke-width="1.0">20.00</text>
<text transform="translate(885.48,4258.30) scale(0.9451,1)" font-size="99.71">Energy (KeV)</text>
</g>
<text transform="translate(1425.89,353.31) scale(0.6293,0.6857)" font-family="'Liberation Sans',Arial,sans-serif" font-weight="bold" fill="#000" font-size="100">Mo</text>
<text transform="translate(1531.83,353.37) scale(0.6615,0.6585)" font-family="'Liberation Sans',Arial,sans-serif" font-weight="normal" fill="#000" font-size="100" stroke="#000" stroke-width="2.2">(</text>
<text transform="translate(1555.59,354.00) scale(0.6297,0.6957)" font-family="'Liberation Sans',Arial,sans-serif" font-weight="bold" fill="#000" font-size="100">K</text>
<text transform="translate(1598.37,354.04) scale(0.7058,0.5643)" font-family="'Noto Sans CJK JP',sans-serif" font-weight="300" fill="#222" font-size="100">α</text>
<text transform="translate(1640.85,353.37) scale(0.7462,0.6585)" font-family="'Liberation Sans',Arial,sans-serif" font-weight="normal" fill="#000" font-size="100" stroke="#000" stroke-width="2.2">)</text>
<text transform="translate(185.82,1067.60) scale(0.6402,0.6425)" font-family="'Liberation Sans',Arial,sans-serif" font-weight="bold" fill="#000" font-size="100">Pb</text>
<text transform="translate(282.73,1067.75) scale(0.6615,0.6500)" font-family="'Liberation Sans',Arial,sans-serif" font-weight="normal" fill="#000" font-size="100" stroke="#000" stroke-width="2.2">(</text>
<text transform="translate(306.44,1067.60) scale(0.6235,0.6797)" font-family="'Liberation Sans',Arial,sans-serif" font-weight="bold" fill="#000" font-size="100">L</text>
<text transform="translate(342.54,1067.08) scale(0.7269,0.5214)" font-family="'Noto Sans CJK JP',sans-serif" font-weight="300" fill="#222" font-size="100">α</text>
<text transform="translate(385.87,1067.75) scale(0.6269,0.6500)" font-family="'Liberation Sans',Arial,sans-serif" font-weight="normal" fill="#000" font-size="100" stroke="#000" stroke-width="2.2">)</text>
<text transform="translate(617.47,1067.60) scale(0.6470,0.6425)" font-family="'Liberation Sans',Arial,sans-serif" font-weight="bold" fill="#000" font-size="100">Pb</text>
<text transform="translate(715.42,1067.75) scale(0.6308,0.6500)" font-family="'Liberation Sans',Arial,sans-serif" font-weight="normal" fill="#000" font-size="100" stroke="#000" stroke-width="2.2">(</text>
<text transform="translate(739.05,1067.60) scale(0.6078,0.6797)" font-family="'Liberation Sans',Arial,sans-serif" font-weight="bold" fill="#000" font-size="100">L</text>
<text transform="translate(775.76,1070.29) scale(0.6043,0.5850)" font-family="'Noto Sans CJK JP',sans-serif" font-weight="300" fill="#222" font-size="100">β</text>
<text transform="translate(811.43,1067.75) scale(0.6654,0.6500)" font-family="'Liberation Sans',Arial,sans-serif" font-weight="normal" fill="#000" font-size="100" stroke="#000" stroke-width="2.2">)</text>
<text transform="translate(1987.64,1066.23) scale(0.6376,0.6657)" font-family="'Liberation Sans',Arial,sans-serif" font-weight="bold" fill="#000" font-size="100">Mo</text>
<text transform="translate(2095.42,1068.06) scale(0.6462,0.6543)" font-family="'Liberation Sans',Arial,sans-serif" font-weight="normal" fill="#000" font-size="100" stroke="#000" stroke-width="2.2">(</text>
<text transform="translate(2120.43,1066.90) scale(0.5812,0.6754)" font-family="'Liberation Sans',Arial,sans-serif" font-weight="bold" fill="#000" font-size="100">K</text>
<text transform="translate(2162.79,1070.63) scale(0.6128,0.5880)" font-family="'Noto Sans CJK JP',sans-serif" font-weight="300" fill="#222" font-size="100">β</text>
<text transform="translate(2199.36,1068.06) scale(0.6423,0.6543)" font-family="'Liberation Sans',Arial,sans-serif" font-weight="normal" fill="#000" font-size="100" stroke="#000" stroke-width="2.2">)</text>
<text transform="translate(1395.69,2479.88) scale(0.6586,0.7186)" font-family="'Liberation Sans',Arial,sans-serif" font-weight="bold" fill="#000" font-size="100">Mo</text>
<text transform="translate(1506.91,2480.01) scale(0.7154,0.6947)" font-family="'Liberation Sans',Arial,sans-serif" font-weight="normal" fill="#000" font-size="100" stroke="#000" stroke-width="2.2">(</text>
<text transform="translate(1533.81,2480.60) scale(0.6266,0.7290)" font-family="'Liberation Sans',Arial,sans-serif" font-weight="bold" fill="#000" font-size="100">K</text>
<text transform="translate(1577.49,2480.07) scale(0.7519,0.5321)" font-family="'Noto Sans CJK JP',sans-serif" font-weight="300" fill="#222" font-size="100">α</text>
<text transform="translate(1624.15,2480.01) scale(0.7500,0.6947)" font-family="'Liberation Sans',Arial,sans-serif" font-weight="normal" fill="#000" font-size="100" stroke="#000" stroke-width="2.2">)</text>
<text transform="translate(140.98,3239.10) scale(0.6889,0.7000)" font-family="'Liberation Sans',Arial,sans-serif" font-weight="bold" fill="#000" font-size="100">Pb</text>
<text transform="translate(243.35,3238.87) scale(0.7577,0.6968)" font-family="'Liberation Sans',Arial,sans-serif" font-weight="normal" fill="#000" font-size="100" stroke="#000" stroke-width="2.2">(</text>
<text transform="translate(268.21,3239.10) scale(0.6843,0.7406)" font-family="'Liberation Sans',Arial,sans-serif" font-weight="bold" fill="#000" font-size="100">L</text>
<text transform="translate(307.75,3238.53) scale(0.7750,0.5750)" font-family="'Noto Sans CJK JP',sans-serif" font-weight="300" fill="#222" font-size="100">α</text>
<text transform="translate(353.77,3238.87) scale(0.7269,0.6968)" font-family="'Liberation Sans',Arial,sans-serif" font-weight="normal" fill="#000" font-size="100" stroke="#000" stroke-width="2.2">)</text>
<text transform="translate(579.53,3239.10) scale(0.6821,0.7000)" font-family="'Liberation Sans',Arial,sans-serif" font-weight="bold" fill="#000" font-size="100">Pb</text>
<text transform="translate(681.95,3238.87) scale(0.7577,0.6968)" font-family="'Liberation Sans',Arial,sans-serif" font-weight="normal" fill="#000" font-size="100" stroke="#000" stroke-width="2.2">(</text>
<text transform="translate(706.81,3239.10) scale(0.6843,0.7406)" font-family="'Liberation Sans',Arial,sans-serif" font-weight="bold" fill="#000" font-size="100">L</text>
<text transform="translate(747.13,3241.74) scale(0.6298,0.6190)" font-family="'Noto Sans CJK JP',sans-serif" font-weight="300" fill="#222" font-size="100">β</text>
<text transform="translate(784.27,3238.87) scale(0.7269,0.6968)" font-family="'Liberation Sans',Arial,sans-serif" font-weight="normal" fill="#000" font-size="100" stroke="#000" stroke-width="2.2">)</text>
<text transform="translate(1997.29,3237.98) scale(0.6865,0.7186)" font-family="'Liberation Sans',Arial,sans-serif" font-weight="bold" fill="#000" font-size="100">Mo</text>
<text transform="translate(2112.59,3239.03) scale(0.6846,0.6936)" font-family="'Liberation Sans',Arial,sans-serif" font-weight="normal" fill="#000" font-size="100" stroke="#000" stroke-width="2.2">(</text>
<text transform="translate(2137.42,3238.70) scale(0.6406,0.7290)" font-family="'Liberation Sans',Arial,sans-serif" font-weight="bold" fill="#000" font-size="100">K</text>
<text transform="translate(2184.87,3241.90) scale(0.6149,0.6160)" font-family="'Noto Sans CJK JP',sans-serif" font-weight="300" fill="#222" font-size="100">β</text>
<text transform="translate(2222.28,3239.03) scale(0.7154,0.6936)" font-family="'Liberation Sans',Arial,sans-serif" font-weight="normal" fill="#000" font-size="100" stroke="#000" stroke-width="2.2">)</text>
</svg></body></html>
